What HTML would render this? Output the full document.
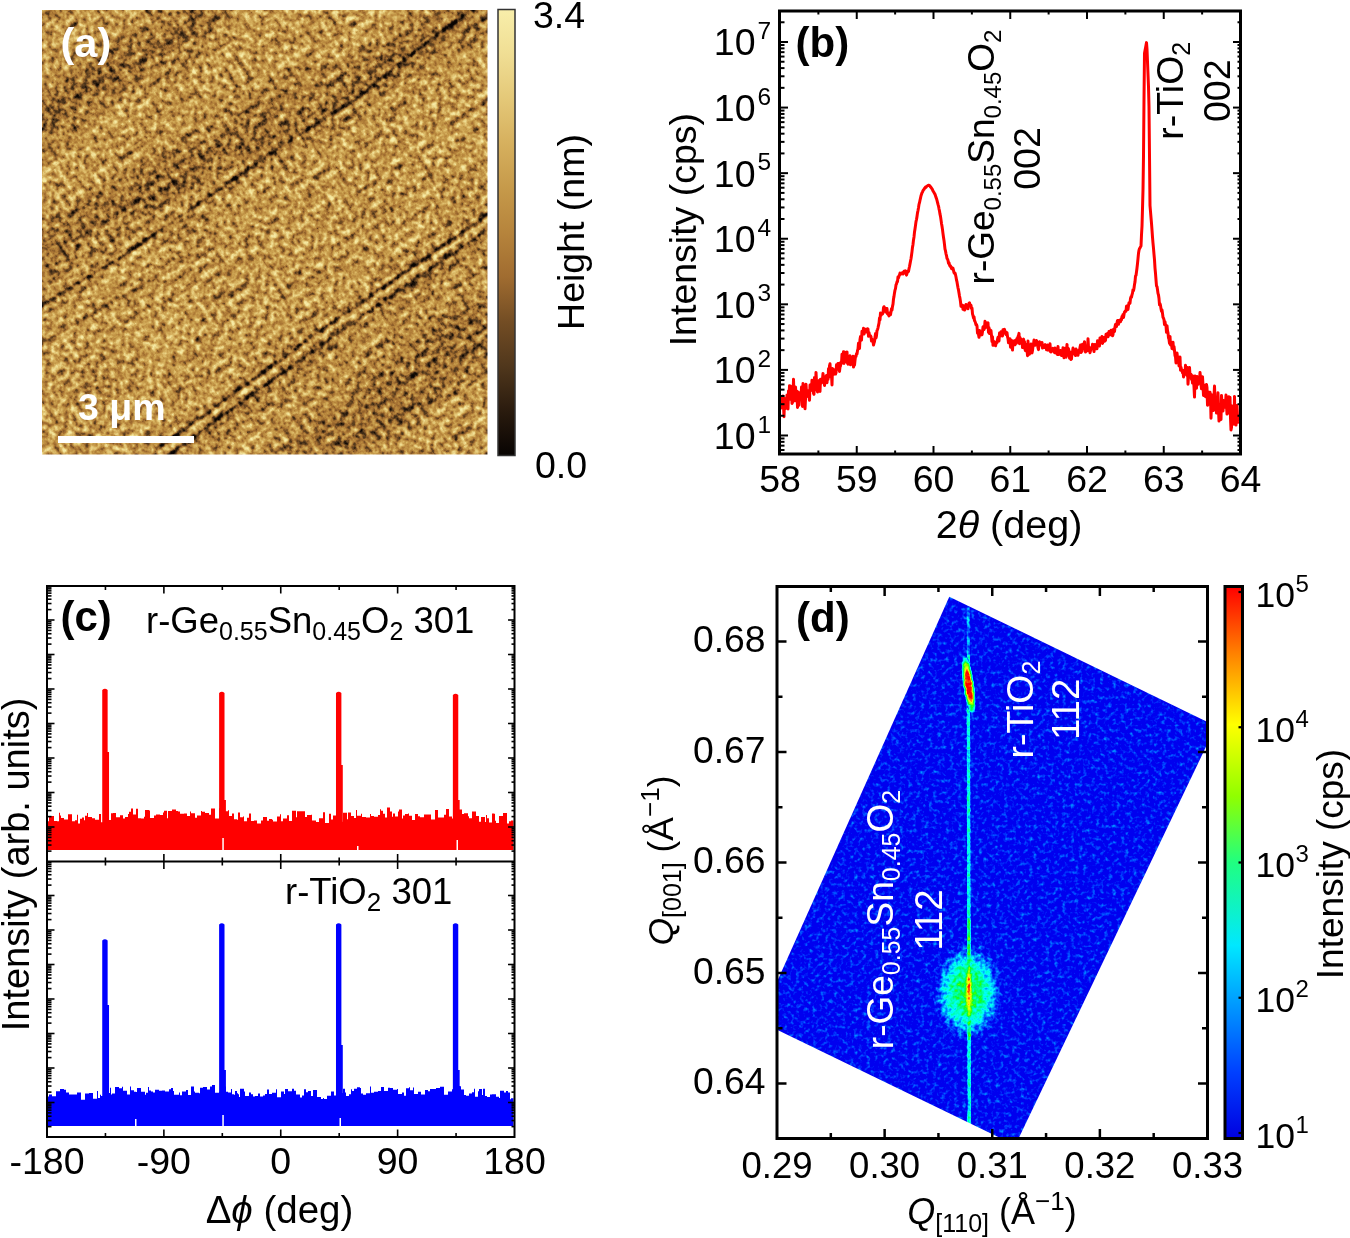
<!DOCTYPE html>
<html><head><meta charset="utf-8"><style>html,body{margin:0;padding:0;background:#fff;}svg{display:block;opacity:0.999;}</style></head>
<body><svg width="1350" height="1238" viewBox="0 0 1350 1238" font-family='"Liberation Sans", sans-serif'>
<rect width="1350" height="1238" fill="#fff"/>
<filter id="afmf" x="-75" y="-108" width="680" height="680" filterUnits="userSpaceOnUse" color-interpolation-filters="sRGB">
<feTurbulence type="fractalNoise" baseFrequency="0.19 0.16" numOctaves="3" seed="11" result="n"/>
<feColorMatrix in="n" type="matrix" values="1 0 0 0 0  1 0 0 0 0  1 0 0 0 0  0 0 0 0 1" result="g"/>
<feTurbulence type="fractalNoise" baseFrequency="0.012 0.16" numOctaves="3" seed="4" result="n2"/>
<feColorMatrix in="n2" type="matrix" values="1 0 0 0 0  1 0 0 0 0  1 0 0 0 0  0 0 0 0 1" result="g2"/>
<feComposite in="g" in2="g2" operator="arithmetic" k1="0" k2="0.95" k3="0.25" k4="-0.1" result="m"/>
<feComposite in="m" in2="SourceGraphic" operator="arithmetic" k1="0" k2="1.3" k3="1" k4="-0.87" result="h"/>
<feComponentTransfer in="h"><feFuncR type="table" tableValues="0.031 0.165 0.314 0.451 0.627 0.714 0.776 0.839 0.894 0.941 0.973"/><feFuncG type="table" tableValues="0.016 0.106 0.216 0.302 0.424 0.518 0.604 0.690 0.784 0.871 0.933"/><feFuncB type="table" tableValues="0.008 0.055 0.110 0.141 0.188 0.235 0.290 0.369 0.471 0.580 0.667"/><feFuncA type="linear" slope="0" intercept="1"/></feComponentTransfer>
</filter>
<filter id="sb0" x="-75" y="-108" width="680" height="680" filterUnits="userSpaceOnUse"><feGaussianBlur stdDeviation="12"/></filter>
<filter id="sb1" x="-75" y="-108" width="680" height="680" filterUnits="userSpaceOnUse"><feGaussianBlur stdDeviation="12"/></filter>
<filter id="sb2" x="-75" y="-108" width="680" height="680" filterUnits="userSpaceOnUse"><feGaussianBlur stdDeviation="12"/></filter>
<filter id="sb3" x="-75" y="-108" width="680" height="680" filterUnits="userSpaceOnUse"><feGaussianBlur stdDeviation="16"/></filter>
<filter id="sb4" x="-75" y="-108" width="680" height="680" filterUnits="userSpaceOnUse"><feGaussianBlur stdDeviation="10"/></filter>
<filter id="sb5" x="-75" y="-108" width="680" height="680" filterUnits="userSpaceOnUse"><feGaussianBlur stdDeviation="0.9"/></filter>
<filter id="sb6" x="-75" y="-108" width="680" height="680" filterUnits="userSpaceOnUse"><feGaussianBlur stdDeviation="0.8"/></filter>
<filter id="sb7" x="-75" y="-108" width="680" height="680" filterUnits="userSpaceOnUse"><feGaussianBlur stdDeviation="0.9"/></filter>
<filter id="sb8" x="-75" y="-108" width="680" height="680" filterUnits="userSpaceOnUse"><feGaussianBlur stdDeviation="1.0"/></filter>
<filter id="sb9" x="-75" y="-108" width="680" height="680" filterUnits="userSpaceOnUse"><feGaussianBlur stdDeviation="0.9"/></filter>
<clipPath id="afmclip"><rect x="42" y="10" width="445.5" height="444.5"/></clipPath>
<g clip-path="url(#afmclip)"><g transform="rotate(-34 265 232)" filter="url(#afmf)"><rect x="-75" y="-108" width="680" height="680" fill="rgb(204,204,204)"/>
<path d="M160.9,448.9 L316.3,433.1 L410.6,436.4" fill="none" stroke="rgb(158,158,158)" stroke-width="60" stroke-linecap="round" stroke-linejoin="round" filter="url(#sb3)"/>
<path d="M53.4,125.5 L193.1,132.9 L324.6,134.7" fill="none" stroke="rgb(161,161,161)" stroke-width="45" stroke-linecap="round" stroke-linejoin="round" filter="url(#sb1)"/>
<path d="M304.0,147.3 L450.9,162.0 L592.4,166.9" fill="none" stroke="rgb(166,166,166)" stroke-width="45" stroke-linecap="round" stroke-linejoin="round" filter="url(#sb2)"/>
<path d="M127.2,16.0 L353.3,11.7" fill="none" stroke="rgb(153,153,153)" stroke-width="40" stroke-linecap="round" stroke-linejoin="round" filter="url(#sb0)"/>
<path d="M36.6,365.0 L257.4,359.5 L466.0,354.3" fill="none" stroke="rgb(179,179,179)" stroke-width="30" stroke-linecap="round" stroke-linejoin="round" filter="url(#sb4)"/>
<path d="M58.5,355.7 L267.7,349.6 L474.6,346.8" fill="none" stroke="rgb(255,255,255)" stroke-width="3.5" stroke-linecap="round" stroke-linejoin="round" stroke-dasharray="7 3 12 2 5 4 9 2 4 3" filter="url(#sb8)"/>
<path d="M25.4,166.9 L130.3,172.5 L229.4,171.2 L327.2,170.2 L411.0,172.2 L525.5,164.1 L594.0,164.4" fill="none" stroke="rgb(64,64,64)" stroke-width="3" stroke-linecap="round" stroke-linejoin="round" stroke-dasharray="7 3 12 2 5 4 9 2 4 3" filter="url(#sb5)"/>
<path d="M58.3,350.7 L267.4,344.6 L474.4,341.9" fill="none" stroke="rgb(64,64,64)" stroke-width="3" stroke-linecap="round" stroke-linejoin="round" stroke-dasharray="7 3 12 2 5 4 9 2 4 3" filter="url(#sb7)"/>
<path d="M59.9,362.6 L269.0,356.6 L476.0,353.8" fill="none" stroke="rgb(77,77,77)" stroke-width="3" stroke-linecap="round" stroke-linejoin="round" stroke-dasharray="7 3 12 2 5 4 9 2 4 3" filter="url(#sb9)"/>
<path d="M4.2,198.4 L142.8,207.5" fill="none" stroke="rgb(128,128,128)" stroke-width="2.5" stroke-linecap="round" stroke-linejoin="round" stroke-dasharray="7 3 12 2 5 4 9 2 4 3" filter="url(#sb6)"/>
</g></g>
<linearGradient id="gold" x1="0" y1="1" x2="0" y2="0"><stop offset="0.0" stop-color="rgb(8, 4, 2)"/><stop offset="0.1" stop-color="rgb(42, 27, 14)"/><stop offset="0.2" stop-color="rgb(80, 55, 28)"/><stop offset="0.3" stop-color="rgb(115, 77, 36)"/><stop offset="0.4" stop-color="rgb(160, 108, 48)"/><stop offset="0.5" stop-color="rgb(182, 132, 60)"/><stop offset="0.6" stop-color="rgb(198, 154, 74)"/><stop offset="0.7" stop-color="rgb(214, 176, 94)"/><stop offset="0.8" stop-color="rgb(228, 200, 120)"/><stop offset="0.9" stop-color="rgb(240, 222, 148)"/><stop offset="1.0" stop-color="rgb(248, 238, 170)"/></linearGradient>
<rect x="498" y="9.5" width="17" height="446" fill="url(#gold)" stroke="#333" stroke-width="1.5"/>
<text x="60.5" y="57" font-size="41.5" text-anchor="start" fill="#fff" font-weight="bold">(a)</text>
<text x="78" y="420" font-size="37.5" text-anchor="start" fill="#fff" font-weight="bold">3 μm</text>
<rect x="58" y="436" width="136" height="7" fill="#fff"/>
<text x="533" y="28" font-size="37.5" text-anchor="start" fill="#000">3.4</text>
<text x="535" y="477.5" font-size="37.5" text-anchor="start" fill="#000">0.0</text>
<text x="584.4" y="232" font-size="37.5" text-anchor="middle" fill="#000" transform="rotate(-90 584.4 232)">Height (nm)</text>
<path d="M780.5,405.3 L781.0,408.0 L781.5,402.7 L782.0,397.0 L782.5,400.9 L783.0,395.9 L783.5,405.3 L784.0,416.7 L784.5,400.0 L785.0,398.6 L785.5,408.4 L786.0,407.0 L786.5,404.5 L787.0,395.1 L787.5,402.9 L788.0,409.0 L788.5,390.9 L789.0,398.5 L789.5,385.7 L790.0,390.9 L790.5,385.9 L791.0,399.6 L791.5,390.5 L792.0,403.5 L792.5,402.3 L793.0,399.1 L793.5,379.3 L794.0,395.8 L794.5,399.7 L795.0,400.8 L795.5,386.9 L796.0,395.5 L796.5,391.1 L797.0,392.3 L797.5,407.4 L798.0,392.0 L798.5,398.0 L799.0,405.2 L799.5,393.1 L800.0,396.6 L800.5,398.1 L801.0,397.4 L801.5,387.0 L802.0,396.8 L802.5,406.4 L803.0,383.5 L803.5,401.6 L804.0,395.6 L804.5,389.4 L805.0,408.8 L805.5,399.1 L806.0,384.2 L806.5,393.2 L807.0,396.4 L807.5,390.5 L808.0,396.3 L808.5,390.6 L809.0,395.4 L809.5,400.3 L810.0,385.1 L810.5,390.8 L811.0,385.8 L811.5,389.5 L812.0,380.2 L812.5,384.0 L813.0,386.2 L813.5,393.1 L814.0,394.3 L814.5,377.6 L815.0,380.8 L815.5,389.8 L816.0,372.4 L816.5,381.9 L817.0,383.8 L817.5,392.0 L818.0,388.0 L818.5,381.3 L819.0,380.6 L819.5,381.0 L820.0,391.5 L820.5,379.2 L821.0,379.6 L821.5,383.1 L822.0,379.9 L822.5,379.1 L823.0,373.4 L823.5,379.4 L824.0,376.6 L824.5,385.5 L825.0,382.1 L825.5,377.9 L826.0,381.4 L826.5,375.4 L827.0,382.7 L827.5,376.5 L828.0,379.4 L828.5,368.7 L829.0,377.3 L829.5,365.9 L830.0,363.8 L830.5,372.7 L831.0,369.2 L831.5,374.4 L832.0,384.9 L832.5,368.5 L833.0,369.2 L833.5,373.1 L834.0,374.2 L834.5,370.4 L835.0,369.9 L835.5,374.1 L836.0,372.8 L836.5,364.8 L837.0,369.0 L837.5,369.2 L838.0,363.5 L838.5,369.3 L839.0,363.4 L839.5,371.4 L840.0,367.0 L840.5,365.8 L841.0,362.0 L841.5,363.3 L842.0,354.3 L842.5,357.3 L843.0,362.9 L843.5,351.7 L844.0,363.4 L844.5,352.1 L845.0,361.8 L845.5,354.9 L846.0,361.2 L846.5,358.5 L847.0,351.9 L847.5,363.2 L848.0,364.2 L848.5,358.5 L849.0,358.0 L849.5,358.8 L850.0,355.8 L850.5,364.8 L851.0,358.3 L851.5,360.7 L852.0,357.9 L852.5,358.9 L853.0,356.3 L853.5,367.1 L854.0,360.9 L854.5,365.2 L855.0,360.3 L855.5,356.3 L856.0,356.4 L856.5,353.8 L857.0,354.0 L857.5,350.6 L858.0,348.8 L858.5,343.1 L859.0,342.9 L859.5,348.5 L860.0,339.4 L860.5,336.5 L861.0,338.8 L861.5,340.2 L862.0,331.3 L862.5,333.6 L863.0,331.7 L863.5,328.2 L864.0,334.1 L864.5,331.7 L865.0,331.6 L865.5,329.3 L866.0,332.1 L866.5,329.7 L867.0,330.8 L867.5,328.7 L868.0,329.0 L868.5,336.3 L869.0,332.4 L869.5,335.6 L870.0,335.8 L870.5,335.8 L871.0,336.7 L871.5,341.0 L872.0,339.2 L872.5,340.5 L873.0,341.5 L873.5,345.0 L874.0,343.2 L874.5,341.5 L875.0,337.5 L875.5,333.6 L876.0,338.0 L876.5,335.7 L877.0,330.5 L877.5,329.7 L878.0,327.8 L878.5,325.4 L879.0,323.2 L879.5,318.1 L880.0,320.0 L880.5,312.9 L881.0,315.3 L881.5,313.4 L882.0,313.0 L882.5,314.0 L883.0,312.8 L883.5,307.9 L884.0,306.7 L884.5,311.0 L885.0,308.0 L885.5,310.1 L886.0,312.1 L886.5,308.6 L887.0,308.6 L887.5,313.8 L888.0,314.4 L888.5,314.7 L889.0,315.9 L889.5,314.4 L890.0,312.9 L890.5,314.7 L891.0,311.8 L891.5,308.7 L892.0,310.1 L892.5,306.4 L893.0,304.1 L893.5,299.0 L894.0,296.4 L894.5,292.9 L895.0,290.1 L895.5,288.6 L896.0,284.9 L896.5,283.8 L897.0,281.8 L897.5,281.7 L898.0,276.9 L898.5,277.9 L899.0,275.9 L899.5,275.1 L900.0,273.1 L900.5,273.4 L901.0,274.0 L901.5,273.0 L902.0,273.0 L902.5,272.6 L903.0,274.0 L903.5,273.1 L904.0,271.3 L904.5,272.9 L905.0,272.0 L905.5,270.9 L906.0,273.5 L906.5,275.1 L907.0,273.6 L907.5,271.9 L908.0,271.1 L908.5,271.4 L909.0,268.8 L909.5,266.5 L910.0,263.9 L910.5,261.2 L911.0,258.7 L911.5,255.3 L912.0,251.6 L912.5,247.2 L913.0,244.4 L913.5,239.9 L914.0,236.9 L914.5,232.1 L915.0,228.9 L915.5,225.4 L916.0,221.6 L916.5,219.5 L917.0,216.4 L917.5,212.9 L918.0,210.5 L918.5,207.8 L919.0,204.4 L919.5,202.7 L920.0,200.3 L920.5,198.1 L921.0,195.8 L921.5,194.3 L922.0,192.8 L922.5,191.9 L923.0,190.7 L923.5,189.8 L924.0,189.5 L924.5,188.4 L925.0,187.9 L925.5,187.1 L926.0,187.2 L926.5,186.6 L927.0,186.2 L927.5,185.8 L928.0,185.4 L928.5,185.3 L929.0,185.3 L929.5,185.6 L930.0,186.0 L930.5,186.9 L931.0,187.4 L931.5,188.1 L932.0,188.8 L932.5,189.7 L933.0,191.0 L933.5,191.7 L934.0,192.5 L934.5,193.4 L935.0,194.3 L935.5,195.8 L936.0,197.4 L936.5,198.6 L937.0,200.4 L937.5,202.3 L938.0,204.4 L938.5,206.1 L939.0,208.8 L939.5,211.0 L940.0,214.2 L940.5,216.4 L941.0,219.9 L941.5,223.4 L942.0,226.2 L942.5,229.6 L943.0,233.6 L943.5,237.2 L944.0,240.4 L944.5,244.7 L945.0,249.1 L945.5,250.9 L946.0,253.8 L946.5,255.6 L947.0,258.5 L947.5,259.1 L948.0,260.5 L948.5,263.3 L949.0,262.6 L949.5,265.0 L950.0,266.1 L950.5,265.9 L951.0,266.9 L951.5,268.7 L952.0,267.7 L952.5,268.2 L953.0,268.3 L953.5,270.4 L954.0,272.6 L954.5,273.3 L955.0,273.0 L955.5,274.7 L956.0,277.0 L956.5,280.0 L957.0,281.9 L957.5,285.0 L958.0,287.8 L958.5,289.9 L959.0,293.0 L959.5,296.1 L960.0,298.4 L960.5,301.8 L961.0,306.3 L961.5,306.3 L962.0,307.0 L962.5,305.2 L963.0,309.3 L963.5,305.7 L964.0,306.5 L964.5,310.1 L965.0,309.4 L965.5,307.5 L966.0,304.4 L966.5,306.0 L967.0,305.0 L967.5,306.6 L968.0,308.7 L968.5,305.1 L969.0,303.4 L969.5,302.9 L970.0,305.1 L970.5,305.7 L971.0,305.2 L971.5,308.6 L972.0,308.1 L972.5,313.8 L973.0,315.7 L973.5,317.8 L974.0,316.8 L974.5,320.7 L975.0,321.4 L975.5,322.9 L976.0,324.9 L976.5,324.6 L977.0,326.0 L977.5,333.2 L978.0,332.2 L978.5,334.4 L979.0,337.3 L979.5,330.4 L980.0,332.9 L980.5,335.1 L981.0,335.0 L981.5,332.1 L982.0,334.7 L982.5,331.5 L983.0,326.9 L983.5,326.5 L984.0,329.5 L984.5,327.6 L985.0,321.3 L985.5,327.8 L986.0,325.5 L986.5,326.9 L987.0,323.1 L987.5,323.8 L988.0,322.8 L988.5,332.3 L989.0,327.6 L989.5,333.5 L990.0,329.7 L990.5,333.6 L991.0,330.6 L991.5,335.8 L992.0,341.5 L992.5,336.8 L993.0,345.3 L993.5,344.6 L994.0,341.4 L994.5,344.0 L995.0,344.5 L995.5,345.8 L996.0,343.8 L996.5,342.1 L997.0,342.7 L997.5,339.3 L998.0,337.3 L998.5,339.7 L999.0,341.0 L999.5,333.0 L1000.0,336.2 L1000.5,333.5 L1001.0,331.7 L1001.5,335.7 L1002.0,331.5 L1002.5,336.0 L1003.0,329.7 L1003.5,332.3 L1004.0,330.6 L1004.5,329.3 L1005.0,333.0 L1005.5,331.7 L1006.0,334.6 L1006.5,334.1 L1007.0,332.6 L1007.5,336.7 L1008.0,338.6 L1008.5,342.8 L1009.0,338.8 L1009.5,342.8 L1010.0,338.7 L1010.5,347.2 L1011.0,342.4 L1011.5,340.5 L1012.0,346.4 L1012.5,350.1 L1013.0,341.2 L1013.5,342.1 L1014.0,342.6 L1014.5,340.8 L1015.0,344.8 L1015.5,340.4 L1016.0,340.0 L1016.5,343.2 L1017.0,338.5 L1017.5,341.4 L1018.0,336.7 L1018.5,335.5 L1019.0,333.4 L1019.5,343.7 L1020.0,337.6 L1020.5,339.5 L1021.0,339.2 L1021.5,340.5 L1022.0,341.0 L1022.5,347.6 L1023.0,339.7 L1023.5,339.1 L1024.0,341.8 L1024.5,341.7 L1025.0,349.5 L1025.5,350.8 L1026.0,345.7 L1026.5,344.9 L1027.0,349.1 L1027.5,355.7 L1028.0,341.1 L1028.5,352.9 L1029.0,347.1 L1029.5,354.2 L1030.0,346.5 L1030.5,348.8 L1031.0,344.1 L1031.5,345.5 L1032.0,353.0 L1032.5,350.5 L1033.0,346.0 L1033.5,343.9 L1034.0,340.1 L1034.5,344.5 L1035.0,345.2 L1035.5,344.6 L1036.0,344.2 L1036.5,340.6 L1037.0,343.7 L1037.5,343.6 L1038.0,347.7 L1038.5,349.6 L1039.0,343.5 L1039.5,341.8 L1040.0,344.2 L1040.5,342.8 L1041.0,342.7 L1041.5,345.3 L1042.0,342.4 L1042.5,348.1 L1043.0,346.2 L1043.5,347.7 L1044.0,346.6 L1044.5,345.1 L1045.0,344.7 L1045.5,347.5 L1046.0,346.8 L1046.5,349.8 L1047.0,349.3 L1047.5,345.0 L1048.0,350.2 L1048.5,345.6 L1049.0,348.5 L1049.5,349.9 L1050.0,343.8 L1050.5,351.7 L1051.0,352.0 L1051.5,351.1 L1052.0,350.2 L1052.5,350.5 L1053.0,348.4 L1053.5,351.0 L1054.0,350.1 L1054.5,352.5 L1055.0,347.9 L1055.5,353.1 L1056.0,352.9 L1056.5,351.9 L1057.0,350.9 L1057.5,354.6 L1058.0,346.6 L1058.5,354.4 L1059.0,353.7 L1059.5,353.9 L1060.0,354.3 L1060.5,350.6 L1061.0,352.1 L1061.5,355.5 L1062.0,354.8 L1062.5,354.0 L1063.0,347.8 L1063.5,355.4 L1064.0,357.8 L1064.5,357.3 L1065.0,354.5 L1065.5,347.9 L1066.0,357.2 L1066.5,353.2 L1067.0,344.4 L1067.5,355.2 L1068.0,348.2 L1068.5,348.9 L1069.0,351.2 L1069.5,358.2 L1070.0,352.0 L1070.5,354.3 L1071.0,359.5 L1071.5,358.8 L1072.0,352.5 L1072.5,351.9 L1073.0,348.1 L1073.5,350.0 L1074.0,353.9 L1074.5,353.7 L1075.0,352.5 L1075.5,355.6 L1076.0,349.1 L1076.5,351.6 L1077.0,354.2 L1077.5,353.6 L1078.0,355.2 L1078.5,352.7 L1079.0,350.0 L1079.5,352.3 L1080.0,347.3 L1080.5,345.0 L1081.0,352.6 L1081.5,350.3 L1082.0,351.4 L1082.5,344.3 L1083.0,348.7 L1083.5,347.7 L1084.0,346.6 L1084.5,341.7 L1085.0,348.1 L1085.5,352.1 L1086.0,350.1 L1086.5,346.5 L1087.0,348.3 L1087.5,350.7 L1088.0,338.7 L1088.5,347.3 L1089.0,349.3 L1089.5,349.5 L1090.0,352.7 L1090.5,350.6 L1091.0,347.7 L1091.5,347.4 L1092.0,348.8 L1092.5,344.3 L1093.0,345.7 L1093.5,348.5 L1094.0,351.6 L1094.5,344.6 L1095.0,344.8 L1095.5,345.3 L1096.0,348.7 L1096.5,344.2 L1097.0,348.7 L1097.5,340.8 L1098.0,343.0 L1098.5,342.8 L1099.0,345.5 L1099.5,346.0 L1100.0,337.9 L1100.5,339.4 L1101.0,342.8 L1101.5,339.4 L1102.0,336.4 L1102.5,343.4 L1103.0,341.3 L1103.5,340.8 L1104.0,337.5 L1104.5,341.3 L1105.0,337.2 L1105.5,340.4 L1106.0,334.4 L1106.5,334.1 L1107.0,336.5 L1107.5,333.5 L1108.0,336.7 L1108.5,335.1 L1109.0,331.5 L1109.5,333.6 L1110.0,332.0 L1110.5,334.7 L1111.0,330.3 L1111.5,330.3 L1112.0,333.8 L1112.5,335.8 L1113.0,334.6 L1113.5,329.3 L1114.0,329.0 L1114.5,331.5 L1115.0,327.0 L1115.5,324.4 L1116.0,326.3 L1116.5,326.4 L1117.0,322.9 L1117.5,320.5 L1118.0,320.4 L1118.5,324.3 L1119.0,320.6 L1119.5,321.3 L1120.0,321.4 L1120.5,321.6 L1121.0,319.0 L1121.5,319.9 L1122.0,316.4 L1122.5,316.6 L1123.0,314.5 L1123.5,317.6 L1124.0,314.4 L1124.5,312.0 L1125.0,311.6 L1125.5,310.7 L1126.0,311.2 L1126.5,306.2 L1127.0,306.0 L1127.5,305.9 L1128.0,309.4 L1128.5,305.6 L1129.0,302.7 L1129.5,302.7 L1130.0,303.2 L1130.5,298.5 L1131.0,296.8 L1131.5,297.3 L1132.0,294.7 L1132.5,293.1 L1133.0,289.8 L1133.5,290.7 L1134.0,288.3 L1134.5,284.5 L1135.0,281.9 L1135.5,276.2 L1136.0,275.5 L1136.5,271.9 L1137.0,268.0 L1137.5,263.7 L1138.0,258.6 L1138.5,253.3 L1139.0,250.2 L1139.5,248.6 L1140.0,247.9 L1140.5,246.8 L1141.0,246.0 L1141.5,234.8 L1142.0,226.1 L1142.5,208.6 L1143.0,189.9 L1143.5,156.0 L1144.0,99.2 L1144.5,53.3 L1145.0,50.6 L1145.5,47.9 L1146.0,45.3 L1146.5,42.6 L1147.0,49.0 L1147.5,61.7 L1148.0,74.2 L1148.5,86.8 L1149.0,106.8 L1149.5,156.1 L1150.0,205.5 L1150.5,211.5 L1151.0,217.6 L1151.5,223.3 L1152.0,230.1 L1152.5,237.2 L1153.0,243.1 L1153.5,248.3 L1154.0,254.4 L1154.5,259.9 L1155.0,268.1 L1155.5,273.3 L1156.0,279.8 L1156.5,286.0 L1157.0,286.5 L1157.5,289.7 L1158.0,293.4 L1158.5,295.0 L1159.0,298.5 L1159.5,304.8 L1160.0,303.6 L1160.5,305.4 L1161.0,308.7 L1161.5,311.1 L1162.0,309.9 L1162.5,313.4 L1163.0,317.4 L1163.5,318.1 L1164.0,319.7 L1164.5,324.6 L1165.0,321.7 L1165.5,325.2 L1166.0,325.7 L1166.5,332.3 L1167.0,325.7 L1167.5,330.7 L1168.0,332.8 L1168.5,337.8 L1169.0,339.4 L1169.5,343.4 L1170.0,336.4 L1170.5,344.9 L1171.0,343.1 L1171.5,343.3 L1172.0,348.6 L1172.5,345.0 L1173.0,342.2 L1173.5,349.3 L1174.0,346.5 L1174.5,350.7 L1175.0,355.7 L1175.5,356.8 L1176.0,363.0 L1176.5,357.2 L1177.0,353.0 L1177.5,357.4 L1178.0,357.8 L1178.5,357.6 L1179.0,366.0 L1179.5,362.2 L1180.0,357.0 L1180.5,370.3 L1181.0,367.3 L1181.5,370.2 L1182.0,369.7 L1182.5,372.8 L1183.0,370.5 L1183.5,377.0 L1184.0,373.5 L1184.5,373.8 L1185.0,374.4 L1185.5,365.3 L1186.0,372.5 L1186.5,372.5 L1187.0,375.5 L1187.5,367.6 L1188.0,384.2 L1188.5,376.4 L1189.0,369.7 L1189.5,367.4 L1190.0,375.8 L1190.5,377.4 L1191.0,374.3 L1191.5,379.4 L1192.0,375.6 L1192.5,383.1 L1193.0,376.0 L1193.5,380.5 L1194.0,387.0 L1194.5,397.1 L1195.0,375.9 L1195.5,379.6 L1196.0,377.7 L1196.5,388.2 L1197.0,376.5 L1197.5,381.0 L1198.0,384.3 L1198.5,378.7 L1199.0,379.2 L1199.5,382.7 L1200.0,372.5 L1200.5,377.2 L1201.0,384.5 L1201.5,388.8 L1202.0,387.0 L1202.5,376.7 L1203.0,386.2 L1203.5,395.5 L1204.0,394.4 L1204.5,390.5 L1205.0,385.2 L1205.5,396.7 L1206.0,388.4 L1206.5,384.6 L1207.0,387.8 L1207.5,405.3 L1208.0,396.6 L1208.5,404.4 L1209.0,392.3 L1209.5,403.9 L1210.0,392.3 L1210.5,396.4 L1211.0,418.2 L1211.5,404.9 L1212.0,395.0 L1212.5,398.9 L1213.0,402.7 L1213.5,410.5 L1214.0,396.5 L1214.5,386.1 L1215.0,398.7 L1215.5,401.4 L1216.0,402.5 L1216.5,413.1 L1217.0,404.7 L1217.5,409.2 L1218.0,392.8 L1218.5,410.1 L1219.0,421.1 L1219.5,409.7 L1220.0,405.4 L1220.5,404.7 L1221.0,419.4 L1221.5,395.5 L1222.0,402.9 L1222.5,408.2 L1223.0,411.0 L1223.5,400.6 L1224.0,407.5 L1224.5,402.4 L1225.0,406.2 L1225.5,404.1 L1226.0,395.0 L1226.5,405.6 L1227.0,414.1 L1227.5,397.2 L1228.0,404.2 L1228.5,412.9 L1229.0,396.8 L1229.5,408.8 L1230.0,397.3 L1230.5,418.3 L1231.0,429.9 L1231.5,427.4 L1232.0,406.1 L1232.5,415.6 L1233.0,409.8 L1233.5,409.9 L1234.0,424.3 L1234.5,396.5 L1235.0,420.3 L1235.5,409.8 L1236.0,425.1 L1236.5,413.5 L1237.0,405.5 L1237.5,416.3 L1238.0,422.3 L1238.5,415.7 L1239.0,421.6" fill="none" stroke="#ff0000" stroke-width="3" stroke-linejoin="round"/>
<rect x="779.5" y="11.0" width="461.0" height="443.0" fill="none" stroke="#000" stroke-width="3"/>
<line x1="779.50" y1="450.03" x2="784.50" y2="450.03" stroke="#000" stroke-width="2"/>
<line x1="1240.50" y1="450.03" x2="1237.50" y2="450.03" stroke="#000" stroke-width="2"/>
<line x1="779.50" y1="445.64" x2="784.50" y2="445.64" stroke="#000" stroke-width="2"/>
<line x1="1240.50" y1="445.64" x2="1237.50" y2="445.64" stroke="#000" stroke-width="2"/>
<line x1="779.50" y1="441.84" x2="784.50" y2="441.84" stroke="#000" stroke-width="2"/>
<line x1="1240.50" y1="441.84" x2="1237.50" y2="441.84" stroke="#000" stroke-width="2"/>
<line x1="779.50" y1="438.48" x2="784.50" y2="438.48" stroke="#000" stroke-width="2"/>
<line x1="1240.50" y1="438.48" x2="1237.50" y2="438.48" stroke="#000" stroke-width="2"/>
<line x1="779.50" y1="435.48" x2="788.00" y2="435.48" stroke="#000" stroke-width="2"/>
<line x1="1240.50" y1="435.48" x2="1233.00" y2="435.48" stroke="#000" stroke-width="2"/>
<line x1="779.50" y1="415.74" x2="784.50" y2="415.74" stroke="#000" stroke-width="2"/>
<line x1="1240.50" y1="415.74" x2="1237.50" y2="415.74" stroke="#000" stroke-width="2"/>
<line x1="779.50" y1="404.19" x2="784.50" y2="404.19" stroke="#000" stroke-width="2"/>
<line x1="1240.50" y1="404.19" x2="1237.50" y2="404.19" stroke="#000" stroke-width="2"/>
<line x1="779.50" y1="396.00" x2="784.50" y2="396.00" stroke="#000" stroke-width="2"/>
<line x1="1240.50" y1="396.00" x2="1237.50" y2="396.00" stroke="#000" stroke-width="2"/>
<line x1="779.50" y1="389.64" x2="784.50" y2="389.64" stroke="#000" stroke-width="2"/>
<line x1="1240.50" y1="389.64" x2="1237.50" y2="389.64" stroke="#000" stroke-width="2"/>
<line x1="779.50" y1="384.45" x2="784.50" y2="384.45" stroke="#000" stroke-width="2"/>
<line x1="1240.50" y1="384.45" x2="1237.50" y2="384.45" stroke="#000" stroke-width="2"/>
<line x1="779.50" y1="380.06" x2="784.50" y2="380.06" stroke="#000" stroke-width="2"/>
<line x1="1240.50" y1="380.06" x2="1237.50" y2="380.06" stroke="#000" stroke-width="2"/>
<line x1="779.50" y1="376.26" x2="784.50" y2="376.26" stroke="#000" stroke-width="2"/>
<line x1="1240.50" y1="376.26" x2="1237.50" y2="376.26" stroke="#000" stroke-width="2"/>
<line x1="779.50" y1="372.90" x2="784.50" y2="372.90" stroke="#000" stroke-width="2"/>
<line x1="1240.50" y1="372.90" x2="1237.50" y2="372.90" stroke="#000" stroke-width="2"/>
<line x1="779.50" y1="369.90" x2="788.00" y2="369.90" stroke="#000" stroke-width="2"/>
<line x1="1240.50" y1="369.90" x2="1233.00" y2="369.90" stroke="#000" stroke-width="2"/>
<line x1="779.50" y1="350.16" x2="784.50" y2="350.16" stroke="#000" stroke-width="2"/>
<line x1="1240.50" y1="350.16" x2="1237.50" y2="350.16" stroke="#000" stroke-width="2"/>
<line x1="779.50" y1="338.61" x2="784.50" y2="338.61" stroke="#000" stroke-width="2"/>
<line x1="1240.50" y1="338.61" x2="1237.50" y2="338.61" stroke="#000" stroke-width="2"/>
<line x1="779.50" y1="330.42" x2="784.50" y2="330.42" stroke="#000" stroke-width="2"/>
<line x1="1240.50" y1="330.42" x2="1237.50" y2="330.42" stroke="#000" stroke-width="2"/>
<line x1="779.50" y1="324.06" x2="784.50" y2="324.06" stroke="#000" stroke-width="2"/>
<line x1="1240.50" y1="324.06" x2="1237.50" y2="324.06" stroke="#000" stroke-width="2"/>
<line x1="779.50" y1="318.87" x2="784.50" y2="318.87" stroke="#000" stroke-width="2"/>
<line x1="1240.50" y1="318.87" x2="1237.50" y2="318.87" stroke="#000" stroke-width="2"/>
<line x1="779.50" y1="314.48" x2="784.50" y2="314.48" stroke="#000" stroke-width="2"/>
<line x1="1240.50" y1="314.48" x2="1237.50" y2="314.48" stroke="#000" stroke-width="2"/>
<line x1="779.50" y1="310.68" x2="784.50" y2="310.68" stroke="#000" stroke-width="2"/>
<line x1="1240.50" y1="310.68" x2="1237.50" y2="310.68" stroke="#000" stroke-width="2"/>
<line x1="779.50" y1="307.32" x2="784.50" y2="307.32" stroke="#000" stroke-width="2"/>
<line x1="1240.50" y1="307.32" x2="1237.50" y2="307.32" stroke="#000" stroke-width="2"/>
<line x1="779.50" y1="304.32" x2="788.00" y2="304.32" stroke="#000" stroke-width="2"/>
<line x1="1240.50" y1="304.32" x2="1233.00" y2="304.32" stroke="#000" stroke-width="2"/>
<line x1="779.50" y1="284.58" x2="784.50" y2="284.58" stroke="#000" stroke-width="2"/>
<line x1="1240.50" y1="284.58" x2="1237.50" y2="284.58" stroke="#000" stroke-width="2"/>
<line x1="779.50" y1="273.03" x2="784.50" y2="273.03" stroke="#000" stroke-width="2"/>
<line x1="1240.50" y1="273.03" x2="1237.50" y2="273.03" stroke="#000" stroke-width="2"/>
<line x1="779.50" y1="264.84" x2="784.50" y2="264.84" stroke="#000" stroke-width="2"/>
<line x1="1240.50" y1="264.84" x2="1237.50" y2="264.84" stroke="#000" stroke-width="2"/>
<line x1="779.50" y1="258.48" x2="784.50" y2="258.48" stroke="#000" stroke-width="2"/>
<line x1="1240.50" y1="258.48" x2="1237.50" y2="258.48" stroke="#000" stroke-width="2"/>
<line x1="779.50" y1="253.29" x2="784.50" y2="253.29" stroke="#000" stroke-width="2"/>
<line x1="1240.50" y1="253.29" x2="1237.50" y2="253.29" stroke="#000" stroke-width="2"/>
<line x1="779.50" y1="248.90" x2="784.50" y2="248.90" stroke="#000" stroke-width="2"/>
<line x1="1240.50" y1="248.90" x2="1237.50" y2="248.90" stroke="#000" stroke-width="2"/>
<line x1="779.50" y1="245.10" x2="784.50" y2="245.10" stroke="#000" stroke-width="2"/>
<line x1="1240.50" y1="245.10" x2="1237.50" y2="245.10" stroke="#000" stroke-width="2"/>
<line x1="779.50" y1="241.74" x2="784.50" y2="241.74" stroke="#000" stroke-width="2"/>
<line x1="1240.50" y1="241.74" x2="1237.50" y2="241.74" stroke="#000" stroke-width="2"/>
<line x1="779.50" y1="238.74" x2="788.00" y2="238.74" stroke="#000" stroke-width="2"/>
<line x1="1240.50" y1="238.74" x2="1233.00" y2="238.74" stroke="#000" stroke-width="2"/>
<line x1="779.50" y1="219.00" x2="784.50" y2="219.00" stroke="#000" stroke-width="2"/>
<line x1="1240.50" y1="219.00" x2="1237.50" y2="219.00" stroke="#000" stroke-width="2"/>
<line x1="779.50" y1="207.45" x2="784.50" y2="207.45" stroke="#000" stroke-width="2"/>
<line x1="1240.50" y1="207.45" x2="1237.50" y2="207.45" stroke="#000" stroke-width="2"/>
<line x1="779.50" y1="199.26" x2="784.50" y2="199.26" stroke="#000" stroke-width="2"/>
<line x1="1240.50" y1="199.26" x2="1237.50" y2="199.26" stroke="#000" stroke-width="2"/>
<line x1="779.50" y1="192.90" x2="784.50" y2="192.90" stroke="#000" stroke-width="2"/>
<line x1="1240.50" y1="192.90" x2="1237.50" y2="192.90" stroke="#000" stroke-width="2"/>
<line x1="779.50" y1="187.71" x2="784.50" y2="187.71" stroke="#000" stroke-width="2"/>
<line x1="1240.50" y1="187.71" x2="1237.50" y2="187.71" stroke="#000" stroke-width="2"/>
<line x1="779.50" y1="183.32" x2="784.50" y2="183.32" stroke="#000" stroke-width="2"/>
<line x1="1240.50" y1="183.32" x2="1237.50" y2="183.32" stroke="#000" stroke-width="2"/>
<line x1="779.50" y1="179.52" x2="784.50" y2="179.52" stroke="#000" stroke-width="2"/>
<line x1="1240.50" y1="179.52" x2="1237.50" y2="179.52" stroke="#000" stroke-width="2"/>
<line x1="779.50" y1="176.16" x2="784.50" y2="176.16" stroke="#000" stroke-width="2"/>
<line x1="1240.50" y1="176.16" x2="1237.50" y2="176.16" stroke="#000" stroke-width="2"/>
<line x1="779.50" y1="173.16" x2="788.00" y2="173.16" stroke="#000" stroke-width="2"/>
<line x1="1240.50" y1="173.16" x2="1233.00" y2="173.16" stroke="#000" stroke-width="2"/>
<line x1="779.50" y1="153.42" x2="784.50" y2="153.42" stroke="#000" stroke-width="2"/>
<line x1="1240.50" y1="153.42" x2="1237.50" y2="153.42" stroke="#000" stroke-width="2"/>
<line x1="779.50" y1="141.87" x2="784.50" y2="141.87" stroke="#000" stroke-width="2"/>
<line x1="1240.50" y1="141.87" x2="1237.50" y2="141.87" stroke="#000" stroke-width="2"/>
<line x1="779.50" y1="133.68" x2="784.50" y2="133.68" stroke="#000" stroke-width="2"/>
<line x1="1240.50" y1="133.68" x2="1237.50" y2="133.68" stroke="#000" stroke-width="2"/>
<line x1="779.50" y1="127.32" x2="784.50" y2="127.32" stroke="#000" stroke-width="2"/>
<line x1="1240.50" y1="127.32" x2="1237.50" y2="127.32" stroke="#000" stroke-width="2"/>
<line x1="779.50" y1="122.13" x2="784.50" y2="122.13" stroke="#000" stroke-width="2"/>
<line x1="1240.50" y1="122.13" x2="1237.50" y2="122.13" stroke="#000" stroke-width="2"/>
<line x1="779.50" y1="117.74" x2="784.50" y2="117.74" stroke="#000" stroke-width="2"/>
<line x1="1240.50" y1="117.74" x2="1237.50" y2="117.74" stroke="#000" stroke-width="2"/>
<line x1="779.50" y1="113.94" x2="784.50" y2="113.94" stroke="#000" stroke-width="2"/>
<line x1="1240.50" y1="113.94" x2="1237.50" y2="113.94" stroke="#000" stroke-width="2"/>
<line x1="779.50" y1="110.58" x2="784.50" y2="110.58" stroke="#000" stroke-width="2"/>
<line x1="1240.50" y1="110.58" x2="1237.50" y2="110.58" stroke="#000" stroke-width="2"/>
<line x1="779.50" y1="107.58" x2="788.00" y2="107.58" stroke="#000" stroke-width="2"/>
<line x1="1240.50" y1="107.58" x2="1233.00" y2="107.58" stroke="#000" stroke-width="2"/>
<line x1="779.50" y1="87.84" x2="784.50" y2="87.84" stroke="#000" stroke-width="2"/>
<line x1="1240.50" y1="87.84" x2="1237.50" y2="87.84" stroke="#000" stroke-width="2"/>
<line x1="779.50" y1="76.29" x2="784.50" y2="76.29" stroke="#000" stroke-width="2"/>
<line x1="1240.50" y1="76.29" x2="1237.50" y2="76.29" stroke="#000" stroke-width="2"/>
<line x1="779.50" y1="68.10" x2="784.50" y2="68.10" stroke="#000" stroke-width="2"/>
<line x1="1240.50" y1="68.10" x2="1237.50" y2="68.10" stroke="#000" stroke-width="2"/>
<line x1="779.50" y1="61.74" x2="784.50" y2="61.74" stroke="#000" stroke-width="2"/>
<line x1="1240.50" y1="61.74" x2="1237.50" y2="61.74" stroke="#000" stroke-width="2"/>
<line x1="779.50" y1="56.55" x2="784.50" y2="56.55" stroke="#000" stroke-width="2"/>
<line x1="1240.50" y1="56.55" x2="1237.50" y2="56.55" stroke="#000" stroke-width="2"/>
<line x1="779.50" y1="52.16" x2="784.50" y2="52.16" stroke="#000" stroke-width="2"/>
<line x1="1240.50" y1="52.16" x2="1237.50" y2="52.16" stroke="#000" stroke-width="2"/>
<line x1="779.50" y1="48.36" x2="784.50" y2="48.36" stroke="#000" stroke-width="2"/>
<line x1="1240.50" y1="48.36" x2="1237.50" y2="48.36" stroke="#000" stroke-width="2"/>
<line x1="779.50" y1="45.00" x2="784.50" y2="45.00" stroke="#000" stroke-width="2"/>
<line x1="1240.50" y1="45.00" x2="1237.50" y2="45.00" stroke="#000" stroke-width="2"/>
<line x1="779.50" y1="42.00" x2="788.00" y2="42.00" stroke="#000" stroke-width="2"/>
<line x1="1240.50" y1="42.00" x2="1233.00" y2="42.00" stroke="#000" stroke-width="2"/>
<line x1="779.50" y1="22.26" x2="784.50" y2="22.26" stroke="#000" stroke-width="2"/>
<line x1="1240.50" y1="22.26" x2="1237.50" y2="22.26" stroke="#000" stroke-width="2"/>
<line x1="818.38" y1="454.00" x2="818.38" y2="450.50" stroke="#000" stroke-width="2"/>
<line x1="818.38" y1="11.00" x2="818.38" y2="14.50" stroke="#000" stroke-width="2"/>
<line x1="856.75" y1="454.00" x2="856.75" y2="446.00" stroke="#000" stroke-width="2"/>
<line x1="856.75" y1="11.00" x2="856.75" y2="19.00" stroke="#000" stroke-width="2"/>
<line x1="895.12" y1="454.00" x2="895.12" y2="450.50" stroke="#000" stroke-width="2"/>
<line x1="895.12" y1="11.00" x2="895.12" y2="14.50" stroke="#000" stroke-width="2"/>
<line x1="933.50" y1="454.00" x2="933.50" y2="446.00" stroke="#000" stroke-width="2"/>
<line x1="933.50" y1="11.00" x2="933.50" y2="19.00" stroke="#000" stroke-width="2"/>
<line x1="971.88" y1="454.00" x2="971.88" y2="450.50" stroke="#000" stroke-width="2"/>
<line x1="971.88" y1="11.00" x2="971.88" y2="14.50" stroke="#000" stroke-width="2"/>
<line x1="1010.25" y1="454.00" x2="1010.25" y2="446.00" stroke="#000" stroke-width="2"/>
<line x1="1010.25" y1="11.00" x2="1010.25" y2="19.00" stroke="#000" stroke-width="2"/>
<line x1="1048.62" y1="454.00" x2="1048.62" y2="450.50" stroke="#000" stroke-width="2"/>
<line x1="1048.62" y1="11.00" x2="1048.62" y2="14.50" stroke="#000" stroke-width="2"/>
<line x1="1087.00" y1="454.00" x2="1087.00" y2="446.00" stroke="#000" stroke-width="2"/>
<line x1="1087.00" y1="11.00" x2="1087.00" y2="19.00" stroke="#000" stroke-width="2"/>
<line x1="1125.38" y1="454.00" x2="1125.38" y2="450.50" stroke="#000" stroke-width="2"/>
<line x1="1125.38" y1="11.00" x2="1125.38" y2="14.50" stroke="#000" stroke-width="2"/>
<line x1="1163.75" y1="454.00" x2="1163.75" y2="446.00" stroke="#000" stroke-width="2"/>
<line x1="1163.75" y1="11.00" x2="1163.75" y2="19.00" stroke="#000" stroke-width="2"/>
<line x1="1202.12" y1="454.00" x2="1202.12" y2="450.50" stroke="#000" stroke-width="2"/>
<line x1="1202.12" y1="11.00" x2="1202.12" y2="14.50" stroke="#000" stroke-width="2"/>
<text x="755.5" y="448.8" font-size="37.5" text-anchor="end">10</text>
<text x="757.5" y="432.5" font-size="24.5">1</text>
<text x="755.5" y="383.2" font-size="37.5" text-anchor="end">10</text>
<text x="757.5" y="366.9" font-size="24.5">2</text>
<text x="755.5" y="317.6" font-size="37.5" text-anchor="end">10</text>
<text x="757.5" y="301.3" font-size="24.5">3</text>
<text x="755.5" y="252.0" font-size="37.5" text-anchor="end">10</text>
<text x="757.5" y="235.7" font-size="24.5">4</text>
<text x="755.5" y="186.5" font-size="37.5" text-anchor="end">10</text>
<text x="757.5" y="170.2" font-size="24.5">5</text>
<text x="755.5" y="120.9" font-size="37.5" text-anchor="end">10</text>
<text x="757.5" y="104.6" font-size="24.5">6</text>
<text x="755.5" y="55.3" font-size="37.5" text-anchor="end">10</text>
<text x="757.5" y="39.0" font-size="24.5">7</text>
<text x="780.0" y="491.7" font-size="37.5" text-anchor="middle" fill="#000">58</text>
<text x="856.75" y="491.7" font-size="37.5" text-anchor="middle" fill="#000">59</text>
<text x="933.5" y="491.7" font-size="37.5" text-anchor="middle" fill="#000">60</text>
<text x="1010.25" y="491.7" font-size="37.5" text-anchor="middle" fill="#000">61</text>
<text x="1087.0" y="491.7" font-size="37.5" text-anchor="middle" fill="#000">62</text>
<text x="1163.75" y="491.7" font-size="37.5" text-anchor="middle" fill="#000">63</text>
<text x="1240.5" y="491.7" font-size="37.5" text-anchor="middle" fill="#000">64</text>
<text x="1009" y="537.5" font-size="39.5" text-anchor="middle" fill="#000">2<tspan font-style="italic">θ</tspan> (deg)</text>
<text x="696" y="229.6" font-size="37.5" text-anchor="middle" fill="#000" transform="rotate(-90 696 229.6)">Intensity (cps)</text>
<text x="795.5" y="57" font-size="42" text-anchor="start" fill="#000" font-weight="bold">(b)</text>
<text x="994" y="157" font-size="37" text-anchor="middle" transform="rotate(-90 994 157)">r-Ge<tspan font-size="24" dy="7">0.55</tspan><tspan dy="-7">Sn</tspan><tspan font-size="24" dy="7">0.45</tspan><tspan dy="-7">O</tspan><tspan font-size="24" dy="7">2</tspan></text>
<text x="1040" y="158.5" font-size="37.5" text-anchor="middle" fill="#000" transform="rotate(-90 1040 158.5)">002</text>
<text x="1183.5" y="90.7" font-size="37.5" text-anchor="middle" transform="rotate(-90 1183.5 90.7)">r-TiO<tspan font-size="25" dy="6.5">2</tspan></text>
<text x="1230" y="90.7" font-size="37.5" text-anchor="middle" fill="#000" transform="rotate(-90 1230 90.7)">002</text>
<path d="M48.0,850 L48.0,821.3 L49.0,821.3 L49.0,816.8 L50.0,816.8 L50.0,816.1 L53.0,816.1 L53.0,816.1 L54.0,816.1 L54.0,821.1 L57.0,821.1 L57.0,821.3 L59.0,821.3 L59.0,812.7 L60.0,812.7 L60.0,815.6 L61.0,815.6 L61.0,818.0 L64.0,818.0 L64.0,819.5 L68.0,819.5 L68.0,814.2 L72.0,814.2 L72.0,821.2 L75.0,821.2 L75.0,820.2 L77.0,820.2 L77.0,814.8 L78.0,814.8 L78.0,823.4 L80.0,823.4 L80.0,818.7 L82.0,818.7 L82.0,817.6 L84.0,817.6 L84.0,820.2 L85.0,820.2 L85.0,815.7 L87.0,815.7 L87.0,813.1 L88.0,813.1 L88.0,817.1 L92.0,817.1 L92.0,818.2 L95.0,818.2 L95.0,819.7 L99.0,819.7 L99.0,813.9 L101.0,813.9 L101.0,822.3 L104.0,822.3 L104.0,816.7 L108.0,816.7 L108.0,820.1 L111.0,820.1 L111.0,813.3 L113.0,813.3 L113.0,812.9 L116.0,812.9 L116.0,817.2 L120.0,817.2 L120.0,815.3 L123.0,815.3 L123.0,818.5 L125.0,818.5 L125.0,817.0 L128.0,817.0 L128.0,813.9 L129.0,813.9 L129.0,811.7 L131.0,811.7 L131.0,808.5 L133.0,808.5 L133.0,814.5 L136.0,814.5 L136.0,808.7 L138.0,808.7 L138.0,818.3 L141.0,818.3 L141.0,818.6 L144.0,818.6 L144.0,816.8 L145.0,816.8 L145.0,810.0 L149.0,810.0 L149.0,810.5 L150.0,810.5 L150.0,817.9 L154.0,817.9 L154.0,815.6 L156.0,815.6 L156.0,814.6 L160.0,814.6 L160.0,814.9 L163.0,814.9 L163.0,812.5 L164.0,812.5 L164.0,810.8 L167.0,810.8 L167.0,818.3 L168.0,818.3 L168.0,811.1 L172.0,811.1 L172.0,809.6 L176.0,809.6 L176.0,810.9 L178.0,810.9 L178.0,811.4 L180.0,811.4 L180.0,813.8 L184.0,813.8 L184.0,813.6 L187.0,813.6 L187.0,815.9 L190.0,815.9 L190.0,811.5 L191.0,811.5 L191.0,813.3 L195.0,813.3 L195.0,817.8 L197.0,817.8 L197.0,815.6 L201.0,815.6 L201.0,810.9 L202.0,810.9 L202.0,811.8 L205.0,811.8 L205.0,812.9 L209.0,812.9 L209.0,814.7 L211.0,814.7 L211.0,808.4 L215.0,808.4 L215.0,818.5 L219.0,818.5 L219.0,808.3 L220.0,808.3 L220.0,818.7 L223.0,818.7 L223.0,808.7 L225.0,808.7 L225.0,811.2 L228.0,811.2 L228.0,810.2 L229.0,810.2 L229.0,816.0 L232.0,816.0 L232.0,813.5 L234.0,813.5 L234.0,819.2 L237.0,819.2 L237.0,819.7 L238.0,819.7 L238.0,812.5 L240.0,812.5 L240.0,817.2 L243.0,817.2 L243.0,816.4 L244.0,816.4 L244.0,821.3 L247.0,821.3 L247.0,817.8 L249.0,817.8 L249.0,813.6 L251.0,813.6 L251.0,820.9 L254.0,820.9 L254.0,820.6 L257.0,820.6 L257.0,823.6 L261.0,823.6 L261.0,820.5 L263.0,820.5 L263.0,817.1 L267.0,817.1 L267.0,820.8 L269.0,820.8 L269.0,819.1 L272.0,819.1 L272.0,819.8 L273.0,819.8 L273.0,821.4 L277.0,821.4 L277.0,816.6 L280.0,816.6 L280.0,814.3 L281.0,814.3 L281.0,821.2 L283.0,821.2 L283.0,818.6 L287.0,818.6 L287.0,815.2 L289.0,815.2 L289.0,821.0 L292.0,821.0 L292.0,810.8 L296.0,810.8 L296.0,817.2 L297.0,817.2 L297.0,811.3 L301.0,811.3 L301.0,811.2 L305.0,811.2 L305.0,817.0 L307.0,817.0 L307.0,815.1 L311.0,815.1 L311.0,814.7 L312.0,814.7 L312.0,820.5 L316.0,820.5 L316.0,822.1 L319.0,822.1 L319.0,818.3 L323.0,818.3 L323.0,812.3 L325.0,812.3 L325.0,822.9 L329.0,822.9 L329.0,813.7 L331.0,813.7 L331.0,819.6 L333.0,819.6 L333.0,815.6 L337.0,815.6 L337.0,815.3 L339.0,815.3 L339.0,821.8 L343.0,821.8 L343.0,812.8 L347.0,812.8 L347.0,819.2 L348.0,819.2 L348.0,812.4 L351.0,812.4 L351.0,815.9 L353.0,815.9 L353.0,816.0 L354.0,816.0 L354.0,818.0 L356.0,818.0 L356.0,810.1 L357.0,810.1 L357.0,815.8 L361.0,815.8 L361.0,813.7 L362.0,813.7 L362.0,817.0 L366.0,817.0 L366.0,817.6 L370.0,817.6 L370.0,813.9 L371.0,813.9 L371.0,816.1 L374.0,816.1 L374.0,816.8 L378.0,816.8 L378.0,815.0 L380.0,815.0 L380.0,809.3 L381.0,809.3 L381.0,810.7 L383.0,810.7 L383.0,813.7 L385.0,813.7 L385.0,817.5 L387.0,817.5 L387.0,807.5 L390.0,807.5 L390.0,811.6 L392.0,811.6 L392.0,816.8 L393.0,816.8 L393.0,813.5 L395.0,813.5 L395.0,816.4 L398.0,816.4 L398.0,811.5 L399.0,811.5 L399.0,809.4 L402.0,809.4 L402.0,818.4 L403.0,818.4 L403.0,815.4 L405.0,815.4 L405.0,813.9 L408.0,813.9 L408.0,813.5 L409.0,813.5 L409.0,815.8 L412.0,815.8 L412.0,819.9 L415.0,819.9 L415.0,814.0 L418.0,814.0 L418.0,816.3 L420.0,816.3 L420.0,817.3 L424.0,817.3 L424.0,814.6 L428.0,814.6 L428.0,814.5 L431.0,814.5 L431.0,819.6 L435.0,819.6 L435.0,810.1 L438.0,810.1 L438.0,817.6 L440.0,817.6 L440.0,817.6 L444.0,817.6 L444.0,814.8 L446.0,814.8 L446.0,809.0 L449.0,809.0 L449.0,816.6 L452.0,816.6 L452.0,818.5 L454.0,818.5 L454.0,817.6 L455.0,817.6 L455.0,809.4 L457.0,809.4 L457.0,817.8 L459.0,817.8 L459.0,809.6 L462.0,809.6 L462.0,813.9 L464.0,813.9 L464.0,813.2 L468.0,813.2 L468.0,816.2 L469.0,816.2 L469.0,818.2 L472.0,818.2 L472.0,811.6 L476.0,811.6 L476.0,815.9 L479.0,815.9 L479.0,821.8 L481.0,821.8 L481.0,816.9 L485.0,816.9 L485.0,821.9 L486.0,821.9 L486.0,814.9 L487.0,814.9 L487.0,818.3 L489.0,818.3 L489.0,822.6 L492.0,822.6 L492.0,813.6 L494.0,813.6 L494.0,813.8 L495.0,813.8 L495.0,820.8 L496.0,820.8 L496.0,822.9 L497.0,822.9 L497.0,822.9 L499.0,822.9 L499.0,815.9 L503.0,815.9 L503.0,813.1 L507.0,813.1 L507.0,823.5 L509.0,823.5 L509.0,821.2 L511.0,821.2 L511.0,820.4 L513.5,820.4 L513.5,850 Z" fill="#ff0000"/>
<path d="M102.2375,850 L102.2375,690.0 Q104.9375,687.3 107.6375,690.0 L107.6375,752 L109.0375,752 L109.0375,850 Z" fill="#ff0000"/>
<path d="M219.1125,850 L219.1125,693.0 Q221.8125,690.3 224.5125,693.0 L224.5125,800 L225.9125,800 L225.9125,850 Z" fill="#ff0000"/>
<path d="M335.9875,850 L335.9875,693.0 Q338.6875,690.3 341.3875,693.0 L341.3875,765 L342.7875,765 L342.7875,850 Z" fill="#ff0000"/>
<path d="M452.8625,850 L452.8625,695.0 Q455.5625,692.3 458.2625,695.0 L458.2625,800 L459.6625,800 L459.6625,850 Z" fill="#ff0000"/>
<rect x="222.3" y="838" width="1.5" height="12.5" fill="#fff"/>
<rect x="456.5" y="840" width="1.5" height="10.5" fill="#fff"/>
<rect x="357" y="846" width="1.5" height="4.5" fill="#fff"/>
<path d="M48.0,1126 L48.0,1096.6 L49.0,1096.6 L49.0,1094.6 L52.0,1094.6 L52.0,1096.2 L56.0,1096.2 L56.0,1091.3 L60.0,1091.3 L60.0,1089.1 L64.0,1089.1 L64.0,1089.8 L66.0,1089.8 L66.0,1092.5 L69.0,1092.5 L69.0,1094.5 L73.0,1094.5 L73.0,1094.5 L77.0,1094.5 L77.0,1092.5 L81.0,1092.5 L81.0,1099.8 L85.0,1099.8 L85.0,1093.6 L89.0,1093.6 L89.0,1093.1 L93.0,1093.1 L93.0,1098.8 L97.0,1098.8 L97.0,1091.1 L98.0,1091.1 L98.0,1098.0 L100.0,1098.0 L100.0,1094.8 L101.0,1094.8 L101.0,1096.0 L103.0,1096.0 L103.0,1088.8 L106.0,1088.8 L106.0,1092.9 L110.0,1092.9 L110.0,1087.8 L111.0,1087.8 L111.0,1094.5 L112.0,1094.5 L112.0,1093.5 L115.0,1093.5 L115.0,1086.9 L119.0,1086.9 L119.0,1088.2 L122.0,1088.2 L122.0,1086.7 L123.0,1086.7 L123.0,1090.7 L127.0,1090.7 L127.0,1094.4 L130.0,1094.4 L130.0,1086.5 L131.0,1086.5 L131.0,1090.2 L134.0,1090.2 L134.0,1091.8 L136.0,1091.8 L136.0,1092.0 L137.0,1092.0 L137.0,1088.1 L141.0,1088.1 L141.0,1091.8 L145.0,1091.8 L145.0,1094.7 L146.0,1094.7 L146.0,1092.8 L148.0,1092.8 L148.0,1087.0 L149.0,1087.0 L149.0,1090.5 L151.0,1090.5 L151.0,1091.6 L153.0,1091.6 L153.0,1092.5 L155.0,1092.5 L155.0,1089.7 L159.0,1089.7 L159.0,1090.8 L162.0,1090.8 L162.0,1090.4 L165.0,1090.4 L165.0,1091.4 L169.0,1091.4 L169.0,1089.3 L171.0,1089.3 L171.0,1088.0 L173.0,1088.0 L173.0,1090.9 L174.0,1090.9 L174.0,1094.8 L177.0,1094.8 L177.0,1094.8 L179.0,1094.8 L179.0,1092.4 L180.0,1092.4 L180.0,1095.2 L182.0,1095.2 L182.0,1091.6 L186.0,1091.6 L186.0,1090.1 L188.0,1090.1 L188.0,1095.1 L191.0,1095.1 L191.0,1086.6 L194.0,1086.6 L194.0,1091.6 L195.0,1091.6 L195.0,1092.8 L199.0,1092.8 L199.0,1093.3 L200.0,1093.3 L200.0,1087.8 L203.0,1087.8 L203.0,1087.0 L207.0,1087.0 L207.0,1089.4 L210.0,1089.4 L210.0,1086.4 L212.0,1086.4 L212.0,1085.1 L215.0,1085.1 L215.0,1092.7 L219.0,1092.7 L219.0,1091.7 L223.0,1091.7 L223.0,1092.1 L224.0,1092.1 L224.0,1086.5 L226.0,1086.5 L226.0,1091.7 L228.0,1091.7 L228.0,1092.5 L231.0,1092.5 L231.0,1089.1 L232.0,1089.1 L232.0,1094.2 L234.0,1094.2 L234.0,1094.8 L235.0,1094.8 L235.0,1091.1 L237.0,1091.1 L237.0,1093.2 L238.0,1093.2 L238.0,1094.2 L239.0,1094.2 L239.0,1097.0 L240.0,1097.0 L240.0,1088.8 L244.0,1088.8 L244.0,1091.4 L245.0,1091.4 L245.0,1095.9 L249.0,1095.9 L249.0,1092.5 L251.0,1092.5 L251.0,1094.3 L253.0,1094.3 L253.0,1096.5 L255.0,1096.5 L255.0,1096.0 L258.0,1096.0 L258.0,1093.5 L260.0,1093.5 L260.0,1096.4 L263.0,1096.4 L263.0,1095.6 L265.0,1095.6 L265.0,1094.0 L267.0,1094.0 L267.0,1089.4 L269.0,1089.4 L269.0,1094.1 L272.0,1094.1 L272.0,1092.7 L276.0,1092.7 L276.0,1089.2 L277.0,1089.2 L277.0,1097.3 L281.0,1097.3 L281.0,1091.6 L284.0,1091.6 L284.0,1094.0 L285.0,1094.0 L285.0,1089.0 L286.0,1089.0 L286.0,1088.9 L288.0,1088.9 L288.0,1091.2 L292.0,1091.2 L292.0,1088.7 L294.0,1088.7 L294.0,1090.7 L296.0,1090.7 L296.0,1094.6 L300.0,1094.6 L300.0,1097.5 L302.0,1097.5 L302.0,1095.6 L304.0,1095.6 L304.0,1089.3 L306.0,1089.3 L306.0,1092.3 L308.0,1092.3 L308.0,1091.0 L311.0,1091.0 L311.0,1095.9 L313.0,1095.9 L313.0,1089.9 L317.0,1089.9 L317.0,1097.1 L321.0,1097.1 L321.0,1099.1 L323.0,1099.1 L323.0,1098.0 L324.0,1098.0 L324.0,1099.1 L327.0,1099.1 L327.0,1095.8 L331.0,1095.8 L331.0,1091.6 L334.0,1091.6 L334.0,1095.5 L337.0,1095.5 L337.0,1098.4 L339.0,1098.4 L339.0,1092.9 L343.0,1092.9 L343.0,1088.7 L345.0,1088.7 L345.0,1092.6 L346.0,1092.6 L346.0,1096.0 L349.0,1096.0 L349.0,1094.2 L350.0,1094.2 L350.0,1094.2 L351.0,1094.2 L351.0,1089.2 L352.0,1089.2 L352.0,1091.1 L354.0,1091.1 L354.0,1088.7 L357.0,1088.7 L357.0,1087.2 L360.0,1087.2 L360.0,1088.1 L361.0,1088.1 L361.0,1093.6 L363.0,1093.6 L363.0,1094.8 L366.0,1094.8 L366.0,1093.3 L370.0,1093.3 L370.0,1086.4 L371.0,1086.4 L371.0,1092.7 L374.0,1092.7 L374.0,1091.7 L378.0,1091.7 L378.0,1091.1 L381.0,1091.1 L381.0,1087.1 L384.0,1087.1 L384.0,1090.9 L388.0,1090.9 L388.0,1087.8 L390.0,1087.8 L390.0,1087.9 L393.0,1087.9 L393.0,1089.8 L397.0,1089.8 L397.0,1088.9 L398.0,1088.9 L398.0,1093.9 L402.0,1093.9 L402.0,1092.6 L404.0,1092.6 L404.0,1095.8 L406.0,1095.8 L406.0,1088.3 L409.0,1088.3 L409.0,1087.2 L410.0,1087.2 L410.0,1090.3 L413.0,1090.3 L413.0,1087.4 L414.0,1087.4 L414.0,1094.1 L418.0,1094.1 L418.0,1091.7 L421.0,1091.7 L421.0,1094.5 L425.0,1094.5 L425.0,1089.9 L428.0,1089.9 L428.0,1091.3 L430.0,1091.3 L430.0,1089.1 L433.0,1089.1 L433.0,1088.9 L434.0,1088.9 L434.0,1089.1 L436.0,1089.1 L436.0,1087.9 L440.0,1087.9 L440.0,1086.7 L444.0,1086.7 L444.0,1094.7 L448.0,1094.7 L448.0,1091.4 L452.0,1091.4 L452.0,1089.2 L456.0,1089.2 L456.0,1086.1 L460.0,1086.1 L460.0,1086.3 L461.0,1086.3 L461.0,1089.4 L464.0,1089.4 L464.0,1094.9 L466.0,1094.9 L466.0,1095.8 L469.0,1095.8 L469.0,1093.6 L472.0,1093.6 L472.0,1092.3 L474.0,1092.3 L474.0,1088.7 L475.0,1088.7 L475.0,1096.7 L478.0,1096.7 L478.0,1091.2 L479.0,1091.2 L479.0,1089.0 L482.0,1089.0 L482.0,1095.0 L483.0,1095.0 L483.0,1088.7 L485.0,1088.7 L485.0,1096.0 L487.0,1096.0 L487.0,1097.0 L490.0,1097.0 L490.0,1094.4 L492.0,1094.4 L492.0,1094.3 L496.0,1094.3 L496.0,1096.7 L499.0,1096.7 L499.0,1098.1 L500.0,1098.1 L500.0,1090.8 L504.0,1090.8 L504.0,1092.4 L506.0,1092.4 L506.0,1091.0 L508.0,1091.0 L508.0,1092.4 L510.0,1092.4 L510.0,1099.3 L511.0,1099.3 L511.0,1098.2 L513.5,1098.2 L513.5,1126 Z" fill="#0000ff"/>
<path d="M102.2375,1126 L102.2375,940.5 Q104.9375,937.8 107.6375,940.5 L107.6375,1005 L109.0375,1005 L109.0375,1126 Z" fill="#0000ff"/>
<path d="M219.1125,1126 L219.1125,924.5 Q221.8125,921.8 224.5125,924.5 L224.5125,1070 L225.9125,1070 L225.9125,1126 Z" fill="#0000ff"/>
<path d="M335.9875,1126 L335.9875,924.5 Q338.6875,921.8 341.3875,924.5 L341.3875,1045 L342.7875,1045 L342.7875,1126 Z" fill="#0000ff"/>
<path d="M452.8625,1126 L452.8625,924.5 Q455.5625,921.8 458.2625,924.5 L458.2625,1070 L459.6625,1070 L459.6625,1126 Z" fill="#0000ff"/>
<rect x="222.3" y="1115" width="1.5" height="11.5" fill="#fff"/>
<rect x="339.5" y="1118" width="1.5" height="8.5" fill="#fff"/>
<rect x="135" y="1119" width="1.5" height="7.5" fill="#fff"/>
<rect x="47.0" y="586.0" width="467.5" height="551.0" fill="none" stroke="#000" stroke-width="2"/>
<line x1="47.00" y1="861.50" x2="514.50" y2="861.50" stroke="#000" stroke-width="2"/>
<line x1="47.00" y1="851.11" x2="51.50" y2="851.11" stroke="#000" stroke-width="1.6"/>
<line x1="514.50" y1="851.11" x2="511.50" y2="851.11" stroke="#000" stroke-width="1.6"/>
<line x1="47.00" y1="845.04" x2="51.50" y2="845.04" stroke="#000" stroke-width="1.6"/>
<line x1="514.50" y1="845.04" x2="511.50" y2="845.04" stroke="#000" stroke-width="1.6"/>
<line x1="47.00" y1="840.73" x2="51.50" y2="840.73" stroke="#000" stroke-width="1.6"/>
<line x1="514.50" y1="840.73" x2="511.50" y2="840.73" stroke="#000" stroke-width="1.6"/>
<line x1="47.00" y1="837.39" x2="51.50" y2="837.39" stroke="#000" stroke-width="1.6"/>
<line x1="514.50" y1="837.39" x2="511.50" y2="837.39" stroke="#000" stroke-width="1.6"/>
<line x1="47.00" y1="834.65" x2="51.50" y2="834.65" stroke="#000" stroke-width="1.6"/>
<line x1="514.50" y1="834.65" x2="511.50" y2="834.65" stroke="#000" stroke-width="1.6"/>
<line x1="47.00" y1="832.34" x2="51.50" y2="832.34" stroke="#000" stroke-width="1.6"/>
<line x1="514.50" y1="832.34" x2="511.50" y2="832.34" stroke="#000" stroke-width="1.6"/>
<line x1="47.00" y1="830.34" x2="51.50" y2="830.34" stroke="#000" stroke-width="1.6"/>
<line x1="514.50" y1="830.34" x2="511.50" y2="830.34" stroke="#000" stroke-width="1.6"/>
<line x1="47.00" y1="828.58" x2="51.50" y2="828.58" stroke="#000" stroke-width="1.6"/>
<line x1="514.50" y1="828.58" x2="511.50" y2="828.58" stroke="#000" stroke-width="1.6"/>
<line x1="47.00" y1="827.00" x2="54.50" y2="827.00" stroke="#000" stroke-width="1.6"/>
<line x1="514.50" y1="827.00" x2="508.00" y2="827.00" stroke="#000" stroke-width="1.6"/>
<line x1="47.00" y1="816.61" x2="51.50" y2="816.61" stroke="#000" stroke-width="1.6"/>
<line x1="514.50" y1="816.61" x2="511.50" y2="816.61" stroke="#000" stroke-width="1.6"/>
<line x1="47.00" y1="810.54" x2="51.50" y2="810.54" stroke="#000" stroke-width="1.6"/>
<line x1="514.50" y1="810.54" x2="511.50" y2="810.54" stroke="#000" stroke-width="1.6"/>
<line x1="47.00" y1="806.23" x2="51.50" y2="806.23" stroke="#000" stroke-width="1.6"/>
<line x1="514.50" y1="806.23" x2="511.50" y2="806.23" stroke="#000" stroke-width="1.6"/>
<line x1="47.00" y1="802.89" x2="51.50" y2="802.89" stroke="#000" stroke-width="1.6"/>
<line x1="514.50" y1="802.89" x2="511.50" y2="802.89" stroke="#000" stroke-width="1.6"/>
<line x1="47.00" y1="800.15" x2="51.50" y2="800.15" stroke="#000" stroke-width="1.6"/>
<line x1="514.50" y1="800.15" x2="511.50" y2="800.15" stroke="#000" stroke-width="1.6"/>
<line x1="47.00" y1="797.84" x2="51.50" y2="797.84" stroke="#000" stroke-width="1.6"/>
<line x1="514.50" y1="797.84" x2="511.50" y2="797.84" stroke="#000" stroke-width="1.6"/>
<line x1="47.00" y1="795.84" x2="51.50" y2="795.84" stroke="#000" stroke-width="1.6"/>
<line x1="514.50" y1="795.84" x2="511.50" y2="795.84" stroke="#000" stroke-width="1.6"/>
<line x1="47.00" y1="794.08" x2="51.50" y2="794.08" stroke="#000" stroke-width="1.6"/>
<line x1="514.50" y1="794.08" x2="511.50" y2="794.08" stroke="#000" stroke-width="1.6"/>
<line x1="47.00" y1="792.50" x2="54.50" y2="792.50" stroke="#000" stroke-width="1.6"/>
<line x1="514.50" y1="792.50" x2="508.00" y2="792.50" stroke="#000" stroke-width="1.6"/>
<line x1="47.00" y1="782.11" x2="51.50" y2="782.11" stroke="#000" stroke-width="1.6"/>
<line x1="514.50" y1="782.11" x2="511.50" y2="782.11" stroke="#000" stroke-width="1.6"/>
<line x1="47.00" y1="776.04" x2="51.50" y2="776.04" stroke="#000" stroke-width="1.6"/>
<line x1="514.50" y1="776.04" x2="511.50" y2="776.04" stroke="#000" stroke-width="1.6"/>
<line x1="47.00" y1="771.73" x2="51.50" y2="771.73" stroke="#000" stroke-width="1.6"/>
<line x1="514.50" y1="771.73" x2="511.50" y2="771.73" stroke="#000" stroke-width="1.6"/>
<line x1="47.00" y1="768.39" x2="51.50" y2="768.39" stroke="#000" stroke-width="1.6"/>
<line x1="514.50" y1="768.39" x2="511.50" y2="768.39" stroke="#000" stroke-width="1.6"/>
<line x1="47.00" y1="765.65" x2="51.50" y2="765.65" stroke="#000" stroke-width="1.6"/>
<line x1="514.50" y1="765.65" x2="511.50" y2="765.65" stroke="#000" stroke-width="1.6"/>
<line x1="47.00" y1="763.34" x2="51.50" y2="763.34" stroke="#000" stroke-width="1.6"/>
<line x1="514.50" y1="763.34" x2="511.50" y2="763.34" stroke="#000" stroke-width="1.6"/>
<line x1="47.00" y1="761.34" x2="51.50" y2="761.34" stroke="#000" stroke-width="1.6"/>
<line x1="514.50" y1="761.34" x2="511.50" y2="761.34" stroke="#000" stroke-width="1.6"/>
<line x1="47.00" y1="759.58" x2="51.50" y2="759.58" stroke="#000" stroke-width="1.6"/>
<line x1="514.50" y1="759.58" x2="511.50" y2="759.58" stroke="#000" stroke-width="1.6"/>
<line x1="47.00" y1="758.00" x2="54.50" y2="758.00" stroke="#000" stroke-width="1.6"/>
<line x1="514.50" y1="758.00" x2="508.00" y2="758.00" stroke="#000" stroke-width="1.6"/>
<line x1="47.00" y1="747.61" x2="51.50" y2="747.61" stroke="#000" stroke-width="1.6"/>
<line x1="514.50" y1="747.61" x2="511.50" y2="747.61" stroke="#000" stroke-width="1.6"/>
<line x1="47.00" y1="741.54" x2="51.50" y2="741.54" stroke="#000" stroke-width="1.6"/>
<line x1="514.50" y1="741.54" x2="511.50" y2="741.54" stroke="#000" stroke-width="1.6"/>
<line x1="47.00" y1="737.23" x2="51.50" y2="737.23" stroke="#000" stroke-width="1.6"/>
<line x1="514.50" y1="737.23" x2="511.50" y2="737.23" stroke="#000" stroke-width="1.6"/>
<line x1="47.00" y1="733.89" x2="51.50" y2="733.89" stroke="#000" stroke-width="1.6"/>
<line x1="514.50" y1="733.89" x2="511.50" y2="733.89" stroke="#000" stroke-width="1.6"/>
<line x1="47.00" y1="731.15" x2="51.50" y2="731.15" stroke="#000" stroke-width="1.6"/>
<line x1="514.50" y1="731.15" x2="511.50" y2="731.15" stroke="#000" stroke-width="1.6"/>
<line x1="47.00" y1="728.84" x2="51.50" y2="728.84" stroke="#000" stroke-width="1.6"/>
<line x1="514.50" y1="728.84" x2="511.50" y2="728.84" stroke="#000" stroke-width="1.6"/>
<line x1="47.00" y1="726.84" x2="51.50" y2="726.84" stroke="#000" stroke-width="1.6"/>
<line x1="514.50" y1="726.84" x2="511.50" y2="726.84" stroke="#000" stroke-width="1.6"/>
<line x1="47.00" y1="725.08" x2="51.50" y2="725.08" stroke="#000" stroke-width="1.6"/>
<line x1="514.50" y1="725.08" x2="511.50" y2="725.08" stroke="#000" stroke-width="1.6"/>
<line x1="47.00" y1="723.50" x2="54.50" y2="723.50" stroke="#000" stroke-width="1.6"/>
<line x1="514.50" y1="723.50" x2="508.00" y2="723.50" stroke="#000" stroke-width="1.6"/>
<line x1="47.00" y1="713.11" x2="51.50" y2="713.11" stroke="#000" stroke-width="1.6"/>
<line x1="514.50" y1="713.11" x2="511.50" y2="713.11" stroke="#000" stroke-width="1.6"/>
<line x1="47.00" y1="707.04" x2="51.50" y2="707.04" stroke="#000" stroke-width="1.6"/>
<line x1="514.50" y1="707.04" x2="511.50" y2="707.04" stroke="#000" stroke-width="1.6"/>
<line x1="47.00" y1="702.73" x2="51.50" y2="702.73" stroke="#000" stroke-width="1.6"/>
<line x1="514.50" y1="702.73" x2="511.50" y2="702.73" stroke="#000" stroke-width="1.6"/>
<line x1="47.00" y1="699.39" x2="51.50" y2="699.39" stroke="#000" stroke-width="1.6"/>
<line x1="514.50" y1="699.39" x2="511.50" y2="699.39" stroke="#000" stroke-width="1.6"/>
<line x1="47.00" y1="696.65" x2="51.50" y2="696.65" stroke="#000" stroke-width="1.6"/>
<line x1="514.50" y1="696.65" x2="511.50" y2="696.65" stroke="#000" stroke-width="1.6"/>
<line x1="47.00" y1="694.34" x2="51.50" y2="694.34" stroke="#000" stroke-width="1.6"/>
<line x1="514.50" y1="694.34" x2="511.50" y2="694.34" stroke="#000" stroke-width="1.6"/>
<line x1="47.00" y1="692.34" x2="51.50" y2="692.34" stroke="#000" stroke-width="1.6"/>
<line x1="514.50" y1="692.34" x2="511.50" y2="692.34" stroke="#000" stroke-width="1.6"/>
<line x1="47.00" y1="690.58" x2="51.50" y2="690.58" stroke="#000" stroke-width="1.6"/>
<line x1="514.50" y1="690.58" x2="511.50" y2="690.58" stroke="#000" stroke-width="1.6"/>
<line x1="47.00" y1="689.00" x2="54.50" y2="689.00" stroke="#000" stroke-width="1.6"/>
<line x1="514.50" y1="689.00" x2="508.00" y2="689.00" stroke="#000" stroke-width="1.6"/>
<line x1="47.00" y1="678.61" x2="51.50" y2="678.61" stroke="#000" stroke-width="1.6"/>
<line x1="514.50" y1="678.61" x2="511.50" y2="678.61" stroke="#000" stroke-width="1.6"/>
<line x1="47.00" y1="672.54" x2="51.50" y2="672.54" stroke="#000" stroke-width="1.6"/>
<line x1="514.50" y1="672.54" x2="511.50" y2="672.54" stroke="#000" stroke-width="1.6"/>
<line x1="47.00" y1="668.23" x2="51.50" y2="668.23" stroke="#000" stroke-width="1.6"/>
<line x1="514.50" y1="668.23" x2="511.50" y2="668.23" stroke="#000" stroke-width="1.6"/>
<line x1="47.00" y1="664.89" x2="51.50" y2="664.89" stroke="#000" stroke-width="1.6"/>
<line x1="514.50" y1="664.89" x2="511.50" y2="664.89" stroke="#000" stroke-width="1.6"/>
<line x1="47.00" y1="662.15" x2="51.50" y2="662.15" stroke="#000" stroke-width="1.6"/>
<line x1="514.50" y1="662.15" x2="511.50" y2="662.15" stroke="#000" stroke-width="1.6"/>
<line x1="47.00" y1="659.84" x2="51.50" y2="659.84" stroke="#000" stroke-width="1.6"/>
<line x1="514.50" y1="659.84" x2="511.50" y2="659.84" stroke="#000" stroke-width="1.6"/>
<line x1="47.00" y1="657.84" x2="51.50" y2="657.84" stroke="#000" stroke-width="1.6"/>
<line x1="514.50" y1="657.84" x2="511.50" y2="657.84" stroke="#000" stroke-width="1.6"/>
<line x1="47.00" y1="656.08" x2="51.50" y2="656.08" stroke="#000" stroke-width="1.6"/>
<line x1="514.50" y1="656.08" x2="511.50" y2="656.08" stroke="#000" stroke-width="1.6"/>
<line x1="47.00" y1="654.50" x2="54.50" y2="654.50" stroke="#000" stroke-width="1.6"/>
<line x1="514.50" y1="654.50" x2="508.00" y2="654.50" stroke="#000" stroke-width="1.6"/>
<line x1="47.00" y1="644.11" x2="51.50" y2="644.11" stroke="#000" stroke-width="1.6"/>
<line x1="514.50" y1="644.11" x2="511.50" y2="644.11" stroke="#000" stroke-width="1.6"/>
<line x1="47.00" y1="638.04" x2="51.50" y2="638.04" stroke="#000" stroke-width="1.6"/>
<line x1="514.50" y1="638.04" x2="511.50" y2="638.04" stroke="#000" stroke-width="1.6"/>
<line x1="47.00" y1="633.73" x2="51.50" y2="633.73" stroke="#000" stroke-width="1.6"/>
<line x1="514.50" y1="633.73" x2="511.50" y2="633.73" stroke="#000" stroke-width="1.6"/>
<line x1="47.00" y1="630.39" x2="51.50" y2="630.39" stroke="#000" stroke-width="1.6"/>
<line x1="514.50" y1="630.39" x2="511.50" y2="630.39" stroke="#000" stroke-width="1.6"/>
<line x1="47.00" y1="627.65" x2="51.50" y2="627.65" stroke="#000" stroke-width="1.6"/>
<line x1="514.50" y1="627.65" x2="511.50" y2="627.65" stroke="#000" stroke-width="1.6"/>
<line x1="47.00" y1="625.34" x2="51.50" y2="625.34" stroke="#000" stroke-width="1.6"/>
<line x1="514.50" y1="625.34" x2="511.50" y2="625.34" stroke="#000" stroke-width="1.6"/>
<line x1="47.00" y1="623.34" x2="51.50" y2="623.34" stroke="#000" stroke-width="1.6"/>
<line x1="514.50" y1="623.34" x2="511.50" y2="623.34" stroke="#000" stroke-width="1.6"/>
<line x1="47.00" y1="621.58" x2="51.50" y2="621.58" stroke="#000" stroke-width="1.6"/>
<line x1="514.50" y1="621.58" x2="511.50" y2="621.58" stroke="#000" stroke-width="1.6"/>
<line x1="47.00" y1="620.00" x2="54.50" y2="620.00" stroke="#000" stroke-width="1.6"/>
<line x1="514.50" y1="620.00" x2="508.00" y2="620.00" stroke="#000" stroke-width="1.6"/>
<line x1="47.00" y1="609.61" x2="51.50" y2="609.61" stroke="#000" stroke-width="1.6"/>
<line x1="514.50" y1="609.61" x2="511.50" y2="609.61" stroke="#000" stroke-width="1.6"/>
<line x1="47.00" y1="603.54" x2="51.50" y2="603.54" stroke="#000" stroke-width="1.6"/>
<line x1="514.50" y1="603.54" x2="511.50" y2="603.54" stroke="#000" stroke-width="1.6"/>
<line x1="47.00" y1="599.23" x2="51.50" y2="599.23" stroke="#000" stroke-width="1.6"/>
<line x1="514.50" y1="599.23" x2="511.50" y2="599.23" stroke="#000" stroke-width="1.6"/>
<line x1="47.00" y1="595.89" x2="51.50" y2="595.89" stroke="#000" stroke-width="1.6"/>
<line x1="514.50" y1="595.89" x2="511.50" y2="595.89" stroke="#000" stroke-width="1.6"/>
<line x1="47.00" y1="593.15" x2="51.50" y2="593.15" stroke="#000" stroke-width="1.6"/>
<line x1="514.50" y1="593.15" x2="511.50" y2="593.15" stroke="#000" stroke-width="1.6"/>
<line x1="47.00" y1="590.84" x2="51.50" y2="590.84" stroke="#000" stroke-width="1.6"/>
<line x1="514.50" y1="590.84" x2="511.50" y2="590.84" stroke="#000" stroke-width="1.6"/>
<line x1="47.00" y1="588.84" x2="51.50" y2="588.84" stroke="#000" stroke-width="1.6"/>
<line x1="514.50" y1="588.84" x2="511.50" y2="588.84" stroke="#000" stroke-width="1.6"/>
<line x1="47.00" y1="587.08" x2="51.50" y2="587.08" stroke="#000" stroke-width="1.6"/>
<line x1="514.50" y1="587.08" x2="511.50" y2="587.08" stroke="#000" stroke-width="1.6"/>
<line x1="47.00" y1="1126.61" x2="51.50" y2="1126.61" stroke="#000" stroke-width="1.6"/>
<line x1="514.50" y1="1126.61" x2="511.50" y2="1126.61" stroke="#000" stroke-width="1.6"/>
<line x1="47.00" y1="1120.54" x2="51.50" y2="1120.54" stroke="#000" stroke-width="1.6"/>
<line x1="514.50" y1="1120.54" x2="511.50" y2="1120.54" stroke="#000" stroke-width="1.6"/>
<line x1="47.00" y1="1116.23" x2="51.50" y2="1116.23" stroke="#000" stroke-width="1.6"/>
<line x1="514.50" y1="1116.23" x2="511.50" y2="1116.23" stroke="#000" stroke-width="1.6"/>
<line x1="47.00" y1="1112.89" x2="51.50" y2="1112.89" stroke="#000" stroke-width="1.6"/>
<line x1="514.50" y1="1112.89" x2="511.50" y2="1112.89" stroke="#000" stroke-width="1.6"/>
<line x1="47.00" y1="1110.15" x2="51.50" y2="1110.15" stroke="#000" stroke-width="1.6"/>
<line x1="514.50" y1="1110.15" x2="511.50" y2="1110.15" stroke="#000" stroke-width="1.6"/>
<line x1="47.00" y1="1107.84" x2="51.50" y2="1107.84" stroke="#000" stroke-width="1.6"/>
<line x1="514.50" y1="1107.84" x2="511.50" y2="1107.84" stroke="#000" stroke-width="1.6"/>
<line x1="47.00" y1="1105.84" x2="51.50" y2="1105.84" stroke="#000" stroke-width="1.6"/>
<line x1="514.50" y1="1105.84" x2="511.50" y2="1105.84" stroke="#000" stroke-width="1.6"/>
<line x1="47.00" y1="1104.08" x2="51.50" y2="1104.08" stroke="#000" stroke-width="1.6"/>
<line x1="514.50" y1="1104.08" x2="511.50" y2="1104.08" stroke="#000" stroke-width="1.6"/>
<line x1="47.00" y1="1102.50" x2="54.50" y2="1102.50" stroke="#000" stroke-width="1.6"/>
<line x1="514.50" y1="1102.50" x2="508.00" y2="1102.50" stroke="#000" stroke-width="1.6"/>
<line x1="47.00" y1="1092.11" x2="51.50" y2="1092.11" stroke="#000" stroke-width="1.6"/>
<line x1="514.50" y1="1092.11" x2="511.50" y2="1092.11" stroke="#000" stroke-width="1.6"/>
<line x1="47.00" y1="1086.04" x2="51.50" y2="1086.04" stroke="#000" stroke-width="1.6"/>
<line x1="514.50" y1="1086.04" x2="511.50" y2="1086.04" stroke="#000" stroke-width="1.6"/>
<line x1="47.00" y1="1081.73" x2="51.50" y2="1081.73" stroke="#000" stroke-width="1.6"/>
<line x1="514.50" y1="1081.73" x2="511.50" y2="1081.73" stroke="#000" stroke-width="1.6"/>
<line x1="47.00" y1="1078.39" x2="51.50" y2="1078.39" stroke="#000" stroke-width="1.6"/>
<line x1="514.50" y1="1078.39" x2="511.50" y2="1078.39" stroke="#000" stroke-width="1.6"/>
<line x1="47.00" y1="1075.65" x2="51.50" y2="1075.65" stroke="#000" stroke-width="1.6"/>
<line x1="514.50" y1="1075.65" x2="511.50" y2="1075.65" stroke="#000" stroke-width="1.6"/>
<line x1="47.00" y1="1073.34" x2="51.50" y2="1073.34" stroke="#000" stroke-width="1.6"/>
<line x1="514.50" y1="1073.34" x2="511.50" y2="1073.34" stroke="#000" stroke-width="1.6"/>
<line x1="47.00" y1="1071.34" x2="51.50" y2="1071.34" stroke="#000" stroke-width="1.6"/>
<line x1="514.50" y1="1071.34" x2="511.50" y2="1071.34" stroke="#000" stroke-width="1.6"/>
<line x1="47.00" y1="1069.58" x2="51.50" y2="1069.58" stroke="#000" stroke-width="1.6"/>
<line x1="514.50" y1="1069.58" x2="511.50" y2="1069.58" stroke="#000" stroke-width="1.6"/>
<line x1="47.00" y1="1068.00" x2="54.50" y2="1068.00" stroke="#000" stroke-width="1.6"/>
<line x1="514.50" y1="1068.00" x2="508.00" y2="1068.00" stroke="#000" stroke-width="1.6"/>
<line x1="47.00" y1="1057.61" x2="51.50" y2="1057.61" stroke="#000" stroke-width="1.6"/>
<line x1="514.50" y1="1057.61" x2="511.50" y2="1057.61" stroke="#000" stroke-width="1.6"/>
<line x1="47.00" y1="1051.54" x2="51.50" y2="1051.54" stroke="#000" stroke-width="1.6"/>
<line x1="514.50" y1="1051.54" x2="511.50" y2="1051.54" stroke="#000" stroke-width="1.6"/>
<line x1="47.00" y1="1047.23" x2="51.50" y2="1047.23" stroke="#000" stroke-width="1.6"/>
<line x1="514.50" y1="1047.23" x2="511.50" y2="1047.23" stroke="#000" stroke-width="1.6"/>
<line x1="47.00" y1="1043.89" x2="51.50" y2="1043.89" stroke="#000" stroke-width="1.6"/>
<line x1="514.50" y1="1043.89" x2="511.50" y2="1043.89" stroke="#000" stroke-width="1.6"/>
<line x1="47.00" y1="1041.15" x2="51.50" y2="1041.15" stroke="#000" stroke-width="1.6"/>
<line x1="514.50" y1="1041.15" x2="511.50" y2="1041.15" stroke="#000" stroke-width="1.6"/>
<line x1="47.00" y1="1038.84" x2="51.50" y2="1038.84" stroke="#000" stroke-width="1.6"/>
<line x1="514.50" y1="1038.84" x2="511.50" y2="1038.84" stroke="#000" stroke-width="1.6"/>
<line x1="47.00" y1="1036.84" x2="51.50" y2="1036.84" stroke="#000" stroke-width="1.6"/>
<line x1="514.50" y1="1036.84" x2="511.50" y2="1036.84" stroke="#000" stroke-width="1.6"/>
<line x1="47.00" y1="1035.08" x2="51.50" y2="1035.08" stroke="#000" stroke-width="1.6"/>
<line x1="514.50" y1="1035.08" x2="511.50" y2="1035.08" stroke="#000" stroke-width="1.6"/>
<line x1="47.00" y1="1033.50" x2="54.50" y2="1033.50" stroke="#000" stroke-width="1.6"/>
<line x1="514.50" y1="1033.50" x2="508.00" y2="1033.50" stroke="#000" stroke-width="1.6"/>
<line x1="47.00" y1="1023.11" x2="51.50" y2="1023.11" stroke="#000" stroke-width="1.6"/>
<line x1="514.50" y1="1023.11" x2="511.50" y2="1023.11" stroke="#000" stroke-width="1.6"/>
<line x1="47.00" y1="1017.04" x2="51.50" y2="1017.04" stroke="#000" stroke-width="1.6"/>
<line x1="514.50" y1="1017.04" x2="511.50" y2="1017.04" stroke="#000" stroke-width="1.6"/>
<line x1="47.00" y1="1012.73" x2="51.50" y2="1012.73" stroke="#000" stroke-width="1.6"/>
<line x1="514.50" y1="1012.73" x2="511.50" y2="1012.73" stroke="#000" stroke-width="1.6"/>
<line x1="47.00" y1="1009.39" x2="51.50" y2="1009.39" stroke="#000" stroke-width="1.6"/>
<line x1="514.50" y1="1009.39" x2="511.50" y2="1009.39" stroke="#000" stroke-width="1.6"/>
<line x1="47.00" y1="1006.65" x2="51.50" y2="1006.65" stroke="#000" stroke-width="1.6"/>
<line x1="514.50" y1="1006.65" x2="511.50" y2="1006.65" stroke="#000" stroke-width="1.6"/>
<line x1="47.00" y1="1004.34" x2="51.50" y2="1004.34" stroke="#000" stroke-width="1.6"/>
<line x1="514.50" y1="1004.34" x2="511.50" y2="1004.34" stroke="#000" stroke-width="1.6"/>
<line x1="47.00" y1="1002.34" x2="51.50" y2="1002.34" stroke="#000" stroke-width="1.6"/>
<line x1="514.50" y1="1002.34" x2="511.50" y2="1002.34" stroke="#000" stroke-width="1.6"/>
<line x1="47.00" y1="1000.58" x2="51.50" y2="1000.58" stroke="#000" stroke-width="1.6"/>
<line x1="514.50" y1="1000.58" x2="511.50" y2="1000.58" stroke="#000" stroke-width="1.6"/>
<line x1="47.00" y1="999.00" x2="54.50" y2="999.00" stroke="#000" stroke-width="1.6"/>
<line x1="514.50" y1="999.00" x2="508.00" y2="999.00" stroke="#000" stroke-width="1.6"/>
<line x1="47.00" y1="988.61" x2="51.50" y2="988.61" stroke="#000" stroke-width="1.6"/>
<line x1="514.50" y1="988.61" x2="511.50" y2="988.61" stroke="#000" stroke-width="1.6"/>
<line x1="47.00" y1="982.54" x2="51.50" y2="982.54" stroke="#000" stroke-width="1.6"/>
<line x1="514.50" y1="982.54" x2="511.50" y2="982.54" stroke="#000" stroke-width="1.6"/>
<line x1="47.00" y1="978.23" x2="51.50" y2="978.23" stroke="#000" stroke-width="1.6"/>
<line x1="514.50" y1="978.23" x2="511.50" y2="978.23" stroke="#000" stroke-width="1.6"/>
<line x1="47.00" y1="974.89" x2="51.50" y2="974.89" stroke="#000" stroke-width="1.6"/>
<line x1="514.50" y1="974.89" x2="511.50" y2="974.89" stroke="#000" stroke-width="1.6"/>
<line x1="47.00" y1="972.15" x2="51.50" y2="972.15" stroke="#000" stroke-width="1.6"/>
<line x1="514.50" y1="972.15" x2="511.50" y2="972.15" stroke="#000" stroke-width="1.6"/>
<line x1="47.00" y1="969.84" x2="51.50" y2="969.84" stroke="#000" stroke-width="1.6"/>
<line x1="514.50" y1="969.84" x2="511.50" y2="969.84" stroke="#000" stroke-width="1.6"/>
<line x1="47.00" y1="967.84" x2="51.50" y2="967.84" stroke="#000" stroke-width="1.6"/>
<line x1="514.50" y1="967.84" x2="511.50" y2="967.84" stroke="#000" stroke-width="1.6"/>
<line x1="47.00" y1="966.08" x2="51.50" y2="966.08" stroke="#000" stroke-width="1.6"/>
<line x1="514.50" y1="966.08" x2="511.50" y2="966.08" stroke="#000" stroke-width="1.6"/>
<line x1="47.00" y1="964.50" x2="54.50" y2="964.50" stroke="#000" stroke-width="1.6"/>
<line x1="514.50" y1="964.50" x2="508.00" y2="964.50" stroke="#000" stroke-width="1.6"/>
<line x1="47.00" y1="954.11" x2="51.50" y2="954.11" stroke="#000" stroke-width="1.6"/>
<line x1="514.50" y1="954.11" x2="511.50" y2="954.11" stroke="#000" stroke-width="1.6"/>
<line x1="47.00" y1="948.04" x2="51.50" y2="948.04" stroke="#000" stroke-width="1.6"/>
<line x1="514.50" y1="948.04" x2="511.50" y2="948.04" stroke="#000" stroke-width="1.6"/>
<line x1="47.00" y1="943.73" x2="51.50" y2="943.73" stroke="#000" stroke-width="1.6"/>
<line x1="514.50" y1="943.73" x2="511.50" y2="943.73" stroke="#000" stroke-width="1.6"/>
<line x1="47.00" y1="940.39" x2="51.50" y2="940.39" stroke="#000" stroke-width="1.6"/>
<line x1="514.50" y1="940.39" x2="511.50" y2="940.39" stroke="#000" stroke-width="1.6"/>
<line x1="47.00" y1="937.65" x2="51.50" y2="937.65" stroke="#000" stroke-width="1.6"/>
<line x1="514.50" y1="937.65" x2="511.50" y2="937.65" stroke="#000" stroke-width="1.6"/>
<line x1="47.00" y1="935.34" x2="51.50" y2="935.34" stroke="#000" stroke-width="1.6"/>
<line x1="514.50" y1="935.34" x2="511.50" y2="935.34" stroke="#000" stroke-width="1.6"/>
<line x1="47.00" y1="933.34" x2="51.50" y2="933.34" stroke="#000" stroke-width="1.6"/>
<line x1="514.50" y1="933.34" x2="511.50" y2="933.34" stroke="#000" stroke-width="1.6"/>
<line x1="47.00" y1="931.58" x2="51.50" y2="931.58" stroke="#000" stroke-width="1.6"/>
<line x1="514.50" y1="931.58" x2="511.50" y2="931.58" stroke="#000" stroke-width="1.6"/>
<line x1="47.00" y1="930.00" x2="54.50" y2="930.00" stroke="#000" stroke-width="1.6"/>
<line x1="514.50" y1="930.00" x2="508.00" y2="930.00" stroke="#000" stroke-width="1.6"/>
<line x1="47.00" y1="919.61" x2="51.50" y2="919.61" stroke="#000" stroke-width="1.6"/>
<line x1="514.50" y1="919.61" x2="511.50" y2="919.61" stroke="#000" stroke-width="1.6"/>
<line x1="47.00" y1="913.54" x2="51.50" y2="913.54" stroke="#000" stroke-width="1.6"/>
<line x1="514.50" y1="913.54" x2="511.50" y2="913.54" stroke="#000" stroke-width="1.6"/>
<line x1="47.00" y1="909.23" x2="51.50" y2="909.23" stroke="#000" stroke-width="1.6"/>
<line x1="514.50" y1="909.23" x2="511.50" y2="909.23" stroke="#000" stroke-width="1.6"/>
<line x1="47.00" y1="905.89" x2="51.50" y2="905.89" stroke="#000" stroke-width="1.6"/>
<line x1="514.50" y1="905.89" x2="511.50" y2="905.89" stroke="#000" stroke-width="1.6"/>
<line x1="47.00" y1="903.15" x2="51.50" y2="903.15" stroke="#000" stroke-width="1.6"/>
<line x1="514.50" y1="903.15" x2="511.50" y2="903.15" stroke="#000" stroke-width="1.6"/>
<line x1="47.00" y1="900.84" x2="51.50" y2="900.84" stroke="#000" stroke-width="1.6"/>
<line x1="514.50" y1="900.84" x2="511.50" y2="900.84" stroke="#000" stroke-width="1.6"/>
<line x1="47.00" y1="898.84" x2="51.50" y2="898.84" stroke="#000" stroke-width="1.6"/>
<line x1="514.50" y1="898.84" x2="511.50" y2="898.84" stroke="#000" stroke-width="1.6"/>
<line x1="47.00" y1="897.08" x2="51.50" y2="897.08" stroke="#000" stroke-width="1.6"/>
<line x1="514.50" y1="897.08" x2="511.50" y2="897.08" stroke="#000" stroke-width="1.6"/>
<line x1="47.00" y1="895.50" x2="54.50" y2="895.50" stroke="#000" stroke-width="1.6"/>
<line x1="514.50" y1="895.50" x2="508.00" y2="895.50" stroke="#000" stroke-width="1.6"/>
<line x1="47.00" y1="885.11" x2="51.50" y2="885.11" stroke="#000" stroke-width="1.6"/>
<line x1="514.50" y1="885.11" x2="511.50" y2="885.11" stroke="#000" stroke-width="1.6"/>
<line x1="47.00" y1="879.04" x2="51.50" y2="879.04" stroke="#000" stroke-width="1.6"/>
<line x1="514.50" y1="879.04" x2="511.50" y2="879.04" stroke="#000" stroke-width="1.6"/>
<line x1="47.00" y1="874.73" x2="51.50" y2="874.73" stroke="#000" stroke-width="1.6"/>
<line x1="514.50" y1="874.73" x2="511.50" y2="874.73" stroke="#000" stroke-width="1.6"/>
<line x1="47.00" y1="871.39" x2="51.50" y2="871.39" stroke="#000" stroke-width="1.6"/>
<line x1="514.50" y1="871.39" x2="511.50" y2="871.39" stroke="#000" stroke-width="1.6"/>
<line x1="47.00" y1="868.65" x2="51.50" y2="868.65" stroke="#000" stroke-width="1.6"/>
<line x1="514.50" y1="868.65" x2="511.50" y2="868.65" stroke="#000" stroke-width="1.6"/>
<line x1="47.00" y1="866.34" x2="51.50" y2="866.34" stroke="#000" stroke-width="1.6"/>
<line x1="514.50" y1="866.34" x2="511.50" y2="866.34" stroke="#000" stroke-width="1.6"/>
<line x1="47.00" y1="864.34" x2="51.50" y2="864.34" stroke="#000" stroke-width="1.6"/>
<line x1="514.50" y1="864.34" x2="511.50" y2="864.34" stroke="#000" stroke-width="1.6"/>
<line x1="47.00" y1="862.58" x2="51.50" y2="862.58" stroke="#000" stroke-width="1.6"/>
<line x1="514.50" y1="862.58" x2="511.50" y2="862.58" stroke="#000" stroke-width="1.6"/>
<line x1="105.44" y1="586.00" x2="105.44" y2="590.00" stroke="#000" stroke-width="1.6"/>
<line x1="105.44" y1="861.50" x2="105.44" y2="857.50" stroke="#000" stroke-width="1.6"/>
<line x1="105.44" y1="861.50" x2="105.44" y2="865.50" stroke="#000" stroke-width="1.6"/>
<line x1="105.44" y1="1137.00" x2="105.44" y2="1133.00" stroke="#000" stroke-width="1.6"/>
<line x1="163.88" y1="586.00" x2="163.88" y2="593.50" stroke="#000" stroke-width="1.6"/>
<line x1="163.88" y1="861.50" x2="163.88" y2="854.00" stroke="#000" stroke-width="1.6"/>
<line x1="163.88" y1="861.50" x2="163.88" y2="869.00" stroke="#000" stroke-width="1.6"/>
<line x1="163.88" y1="1137.00" x2="163.88" y2="1129.50" stroke="#000" stroke-width="1.6"/>
<line x1="222.31" y1="586.00" x2="222.31" y2="590.00" stroke="#000" stroke-width="1.6"/>
<line x1="222.31" y1="861.50" x2="222.31" y2="857.50" stroke="#000" stroke-width="1.6"/>
<line x1="222.31" y1="861.50" x2="222.31" y2="865.50" stroke="#000" stroke-width="1.6"/>
<line x1="222.31" y1="1137.00" x2="222.31" y2="1133.00" stroke="#000" stroke-width="1.6"/>
<line x1="280.75" y1="586.00" x2="280.75" y2="593.50" stroke="#000" stroke-width="1.6"/>
<line x1="280.75" y1="861.50" x2="280.75" y2="854.00" stroke="#000" stroke-width="1.6"/>
<line x1="280.75" y1="861.50" x2="280.75" y2="869.00" stroke="#000" stroke-width="1.6"/>
<line x1="280.75" y1="1137.00" x2="280.75" y2="1129.50" stroke="#000" stroke-width="1.6"/>
<line x1="339.19" y1="586.00" x2="339.19" y2="590.00" stroke="#000" stroke-width="1.6"/>
<line x1="339.19" y1="861.50" x2="339.19" y2="857.50" stroke="#000" stroke-width="1.6"/>
<line x1="339.19" y1="861.50" x2="339.19" y2="865.50" stroke="#000" stroke-width="1.6"/>
<line x1="339.19" y1="1137.00" x2="339.19" y2="1133.00" stroke="#000" stroke-width="1.6"/>
<line x1="397.62" y1="586.00" x2="397.62" y2="593.50" stroke="#000" stroke-width="1.6"/>
<line x1="397.62" y1="861.50" x2="397.62" y2="854.00" stroke="#000" stroke-width="1.6"/>
<line x1="397.62" y1="861.50" x2="397.62" y2="869.00" stroke="#000" stroke-width="1.6"/>
<line x1="397.62" y1="1137.00" x2="397.62" y2="1129.50" stroke="#000" stroke-width="1.6"/>
<line x1="456.06" y1="586.00" x2="456.06" y2="590.00" stroke="#000" stroke-width="1.6"/>
<line x1="456.06" y1="861.50" x2="456.06" y2="857.50" stroke="#000" stroke-width="1.6"/>
<line x1="456.06" y1="861.50" x2="456.06" y2="865.50" stroke="#000" stroke-width="1.6"/>
<line x1="456.06" y1="1137.00" x2="456.06" y2="1133.00" stroke="#000" stroke-width="1.6"/>
<text x="47.0" y="1174.3" font-size="37.5" text-anchor="middle" fill="#000">-180</text>
<text x="163.875" y="1174.3" font-size="37.5" text-anchor="middle" fill="#000">-90</text>
<text x="280.75" y="1174.3" font-size="37.5" text-anchor="middle" fill="#000">0</text>
<text x="397.625" y="1174.3" font-size="37.5" text-anchor="middle" fill="#000">90</text>
<text x="514.5" y="1174.3" font-size="37.5" text-anchor="middle" fill="#000">180</text>
<text x="279.5" y="1223" font-size="38.5" text-anchor="middle" fill="#000">Δ<tspan font-style="italic">ϕ</tspan> (deg)</text>
<text x="29" y="864.5" font-size="38" text-anchor="middle" fill="#000" transform="rotate(-90 29 864.5)">Intensity (arb. units)</text>
<text x="60.5" y="631" font-size="42" text-anchor="start" fill="#000" font-weight="bold">(c)</text>
<text x="146" y="633" font-size="36.5">r-Ge<tspan font-size="25" dy="7">0.55</tspan><tspan dy="-7">Sn</tspan><tspan font-size="25" dy="7">0.45</tspan><tspan dy="-7">O</tspan><tspan font-size="25" dy="7">2</tspan><tspan dy="-7"> 301</tspan></text>
<text x="285" y="904.4" font-size="36.5">r-TiO<tspan font-size="26" dy="7">2</tspan><tspan dy="-7"> 301</tspan></text>
<clipPath id="dclip"><rect x="777.0" y="586.5" width="430.5" height="552.0"/></clipPath>
<filter id="rsmf" x="777.0" y="586.5" width="430.5" height="552.0" filterUnits="userSpaceOnUse" color-interpolation-filters="sRGB">
<feTurbulence type="fractalNoise" baseFrequency="0.24" numOctaves="2" seed="5" result="n"/>
<feColorMatrix in="n" type="matrix" values="1 0 0 0 0  1 0 0 0 0  1 0 0 0 0  0 0 0 0 1" result="g"/>
<feComposite in="g" in2="SourceGraphic" operator="arithmetic" k1="0" k2="0.45" k3="1" k4="-0.225" result="h"/>
<feComponentTransfer in="h"><feFuncR type="table" tableValues="0.000 0.000 0.000 0.000 0.000 0.000 0.000 0.000 0.000 0.000 0.000 0.000 0.000 0.000 0.000 0.000 0.000 0.004 0.024 0.043 0.063 0.188 0.314 0.408 0.502 0.580 0.659 0.737 0.815 0.892 0.969 1.000 1.000 1.000 1.000 1.000 1.000 1.000 1.000 1.000 1.000"/><feFuncG type="table" tableValues="0.000 0.070 0.139 0.209 0.293 0.397 0.502 0.607 0.711 0.815 0.918 1.000 1.000 1.000 1.000 1.000 1.000 1.000 1.000 1.000 1.000 1.000 1.000 1.000 1.000 1.000 1.000 1.000 1.000 1.000 1.000 0.907 0.753 0.627 0.502 0.404 0.306 0.208 0.134 0.067 0.000"/><feFuncB type="table" tableValues="0.941 0.958 0.974 0.990 1.000 1.000 1.000 1.000 1.000 1.000 1.000 0.987 0.921 0.855 0.776 0.678 0.580 0.478 0.361 0.243 0.125 0.063 0.000 0.000 0.000 0.000 0.000 0.000 0.000 0.000 0.000 0.000 0.000 0.000 0.000 0.000 0.000 0.000 0.000 0.000 0.000"/><feFuncA type="linear" slope="0" intercept="1"/></feComponentTransfer>
</filter>
<clipPath id="pclip"><polygon points="949.3,596.7 1215.9,726.1 1015.3,1145.3 759.4,1021.2"/></clipPath>
<filter id="rb1" x="-100%" y="-100%" width="300%" height="300%"><feGaussianBlur stdDeviation="0.8"/></filter>
<filter id="rb3" x="-100%" y="-100%" width="300%" height="300%"><feGaussianBlur stdDeviation="2"/></filter>
<filter id="rb5" x="-100%" y="-100%" width="300%" height="300%"><feGaussianBlur stdDeviation="5"/></filter>
<radialGradient id="fh"><stop offset="0" stop-color="rgb(122,122,122)"/><stop offset="0.3" stop-color="rgb(115,115,115)"/><stop offset="0.5" stop-color="rgb(97,97,97)"/><stop offset="0.7" stop-color="rgb(66,66,66)"/><stop offset="0.85" stop-color="rgb(33,33,33)"/><stop offset="1" stop-color="rgb(0,0,0)"/></radialGradient>
<radialGradient id="sh"><stop offset="0" stop-color="rgb(255,255,255)"/><stop offset="0.4" stop-color="rgb(247,247,247)"/><stop offset="0.55" stop-color="rgb(191,191,191)"/><stop offset="0.7" stop-color="rgb(128,128,128)"/><stop offset="0.85" stop-color="rgb(84,84,84)"/><stop offset="1" stop-color="rgb(0,0,0)"/></radialGradient>
<g clip-path="url(#dclip)"><g clip-path="url(#pclip)"><g filter="url(#rsmf)">
<rect x="777.0" y="586.5" width="430.5" height="552.0" fill="rgb(0,0,0)"/>
<ellipse cx="968" cy="992" rx="32" ry="46" fill="url(#fh)" filter="url(#rb5)"/>
<line x1="968" y1="590" x2="968.3" y2="655" stroke="rgb(51,51,51)" stroke-width="3"/>
<line x1="968.3" y1="655" x2="969.3" y2="1125" stroke="rgb(76,76,76)" stroke-width="3.5"/>
<line x1="968.8" y1="918" x2="969.1" y2="1040" stroke="rgb(120,120,120)" stroke-width="3"/>
<ellipse cx="968.9" cy="992" rx="2.2" ry="24" fill="rgb(204,204,204)" filter="url(#rb1)"/>
<ellipse cx="968.9" cy="990" rx="1.2" ry="12" fill="rgb(224,224,224)" filter="url(#rb1)"/>
<ellipse cx="968.6" cy="685" rx="6" ry="31" fill="url(#sh)" transform="rotate(-8 968.6 685)"/>
</g></g></g>
<rect x="777.0" y="586.5" width="430.5" height="552.0" fill="none" stroke="#000" stroke-width="3"/>
<line x1="830.81" y1="1138.50" x2="830.81" y2="1133.00" stroke="#000" stroke-width="2.5"/>
<line x1="830.81" y1="586.50" x2="830.81" y2="592.00" stroke="#000" stroke-width="2.5"/>
<line x1="884.63" y1="1138.50" x2="884.63" y2="1129.00" stroke="#000" stroke-width="2.5"/>
<line x1="884.63" y1="586.50" x2="884.63" y2="596.00" stroke="#000" stroke-width="2.5"/>
<line x1="938.44" y1="1138.50" x2="938.44" y2="1133.00" stroke="#000" stroke-width="2.5"/>
<line x1="938.44" y1="586.50" x2="938.44" y2="592.00" stroke="#000" stroke-width="2.5"/>
<line x1="992.25" y1="1138.50" x2="992.25" y2="1129.00" stroke="#000" stroke-width="2.5"/>
<line x1="992.25" y1="586.50" x2="992.25" y2="596.00" stroke="#000" stroke-width="2.5"/>
<line x1="1046.06" y1="1138.50" x2="1046.06" y2="1133.00" stroke="#000" stroke-width="2.5"/>
<line x1="1046.06" y1="586.50" x2="1046.06" y2="592.00" stroke="#000" stroke-width="2.5"/>
<line x1="1099.87" y1="1138.50" x2="1099.87" y2="1129.00" stroke="#000" stroke-width="2.5"/>
<line x1="1099.87" y1="586.50" x2="1099.87" y2="596.00" stroke="#000" stroke-width="2.5"/>
<line x1="1153.69" y1="1138.50" x2="1153.69" y2="1133.00" stroke="#000" stroke-width="2.5"/>
<line x1="1153.69" y1="586.50" x2="1153.69" y2="592.00" stroke="#000" stroke-width="2.5"/>
<line x1="777.00" y1="1083.50" x2="786.50" y2="1083.50" stroke="#000" stroke-width="2.5"/>
<line x1="1207.50" y1="1083.50" x2="1198.00" y2="1083.50" stroke="#000" stroke-width="2.5"/>
<line x1="777.00" y1="1028.25" x2="782.50" y2="1028.25" stroke="#000" stroke-width="2.5"/>
<line x1="1207.50" y1="1028.25" x2="1202.00" y2="1028.25" stroke="#000" stroke-width="2.5"/>
<line x1="777.00" y1="973.00" x2="786.50" y2="973.00" stroke="#000" stroke-width="2.5"/>
<line x1="1207.50" y1="973.00" x2="1198.00" y2="973.00" stroke="#000" stroke-width="2.5"/>
<line x1="777.00" y1="917.75" x2="782.50" y2="917.75" stroke="#000" stroke-width="2.5"/>
<line x1="1207.50" y1="917.75" x2="1202.00" y2="917.75" stroke="#000" stroke-width="2.5"/>
<line x1="777.00" y1="862.50" x2="786.50" y2="862.50" stroke="#000" stroke-width="2.5"/>
<line x1="1207.50" y1="862.50" x2="1198.00" y2="862.50" stroke="#000" stroke-width="2.5"/>
<line x1="777.00" y1="807.25" x2="782.50" y2="807.25" stroke="#000" stroke-width="2.5"/>
<line x1="1207.50" y1="807.25" x2="1202.00" y2="807.25" stroke="#000" stroke-width="2.5"/>
<line x1="777.00" y1="752.00" x2="786.50" y2="752.00" stroke="#000" stroke-width="2.5"/>
<line x1="1207.50" y1="752.00" x2="1198.00" y2="752.00" stroke="#000" stroke-width="2.5"/>
<line x1="777.00" y1="696.75" x2="782.50" y2="696.75" stroke="#000" stroke-width="2.5"/>
<line x1="1207.50" y1="696.75" x2="1202.00" y2="696.75" stroke="#000" stroke-width="2.5"/>
<line x1="777.00" y1="641.50" x2="786.50" y2="641.50" stroke="#000" stroke-width="2.5"/>
<line x1="1207.50" y1="641.50" x2="1198.00" y2="641.50" stroke="#000" stroke-width="2.5"/>
<text x="765.5" y="1094.3000000000004" font-size="37.3" text-anchor="end" fill="#000">0.64</text>
<text x="765.5" y="983.8000000000002" font-size="37.3" text-anchor="end" fill="#000">0.65</text>
<text x="765.5" y="873.3000000000002" font-size="37.3" text-anchor="end" fill="#000">0.66</text>
<text x="765.5" y="762.8000000000001" font-size="37.3" text-anchor="end" fill="#000">0.67</text>
<text x="765.5" y="652.3" font-size="37.3" text-anchor="end" fill="#000">0.68</text>
<text x="777.0" y="1177.5" font-size="36.5" text-anchor="middle" fill="#000">0.29</text>
<text x="884.6250000000001" y="1177.5" font-size="36.5" text-anchor="middle" fill="#000">0.30</text>
<text x="992.2500000000002" y="1177.5" font-size="36.5" text-anchor="middle" fill="#000">0.31</text>
<text x="1099.8750000000002" y="1177.5" font-size="36.5" text-anchor="middle" fill="#000">0.32</text>
<text x="1207.5000000000005" y="1177.5" font-size="36.5" text-anchor="middle" fill="#000">0.33</text>
<text x="796" y="632" font-size="42" text-anchor="start" fill="#000" font-weight="bold">(d)</text>
<text x="992" y="1224" font-size="36" text-anchor="middle"><tspan font-style="italic">Q</tspan><tspan font-size="25" dy="8">[110]</tspan><tspan dy="-8"> (Å</tspan><tspan font-size="26" dy="-14">−1</tspan><tspan dy="14">)</tspan></text>
<text x="673" y="860.5" font-size="35.5" text-anchor="middle" transform="rotate(-90 673 860.5)"><tspan font-style="italic">Q</tspan><tspan font-size="25" dy="8">[001]</tspan><tspan dy="-8"> (Å</tspan><tspan font-size="26" dy="-14">−1</tspan><tspan dy="14">)</tspan></text>
<linearGradient id="jet" x1="0" y1="1" x2="0" y2="0"><stop offset="0" stop-color="#0000e0"/><stop offset="0.12" stop-color="#0040ff"/><stop offset="0.35" stop-color="#00e8ff"/><stop offset="0.5" stop-color="#20ff80"/><stop offset="0.62" stop-color="#90ff00"/><stop offset="0.75" stop-color="#ffff00"/><stop offset="0.88" stop-color="#ff8000"/><stop offset="1" stop-color="#ff0000"/></linearGradient>
<rect x="1225" y="586.5" width="17.5" height="552" fill="url(#jet)" stroke="#000" stroke-width="3"/>
<line x1="1238.50" y1="1133.00" x2="1242.00" y2="1133.00" stroke="#000" stroke-width="2.2"/>
<text x="1295" y="1147.5" font-size="35.5" text-anchor="end">10</text>
<text x="1295.5" y="1132.5" font-size="24">1</text>
<line x1="1238.50" y1="997.75" x2="1242.00" y2="997.75" stroke="#000" stroke-width="2.2"/>
<text x="1295" y="1012.2" font-size="35.5" text-anchor="end">10</text>
<text x="1295.5" y="997.2" font-size="24">2</text>
<line x1="1238.50" y1="862.50" x2="1242.00" y2="862.50" stroke="#000" stroke-width="2.2"/>
<text x="1295" y="877.0" font-size="35.5" text-anchor="end">10</text>
<text x="1295.5" y="862.0" font-size="24">3</text>
<line x1="1238.50" y1="727.25" x2="1242.00" y2="727.25" stroke="#000" stroke-width="2.2"/>
<text x="1295" y="741.8" font-size="35.5" text-anchor="end">10</text>
<text x="1295.5" y="726.8" font-size="24">4</text>
<line x1="1238.50" y1="592.00" x2="1242.00" y2="592.00" stroke="#000" stroke-width="2.2"/>
<text x="1295" y="606.5" font-size="35.5" text-anchor="end">10</text>
<text x="1295.5" y="591.5" font-size="24">5</text>
<text x="1342.5" y="864" font-size="37" text-anchor="middle" fill="#000" transform="rotate(-90 1342.5 864)">Intensity (cps)</text>
<text x="893" y="919.5" font-size="37" fill="#fff" text-anchor="middle" transform="rotate(-90 893 919.5)">r-Ge<tspan font-size="25" dy="7">0.55</tspan><tspan dy="-7">Sn</tspan><tspan font-size="25" dy="7">0.45</tspan><tspan dy="-7">O</tspan><tspan font-size="25" dy="7">2</tspan></text>
<text x="941.5" y="920" font-size="38.5" text-anchor="middle" fill="#fff" transform="rotate(-90 941.5 920)">112</text>
<text x="1032.5" y="709.5" font-size="37.5" fill="#fff" text-anchor="middle" transform="rotate(-90 1032.5 709.5)">r-TiO<tspan font-size="25" dy="7">2</tspan></text>
<text x="1079.5" y="709.3" font-size="38.5" text-anchor="middle" fill="#fff" transform="rotate(-90 1079.5 709.3)">112</text>
</svg></body></html>
